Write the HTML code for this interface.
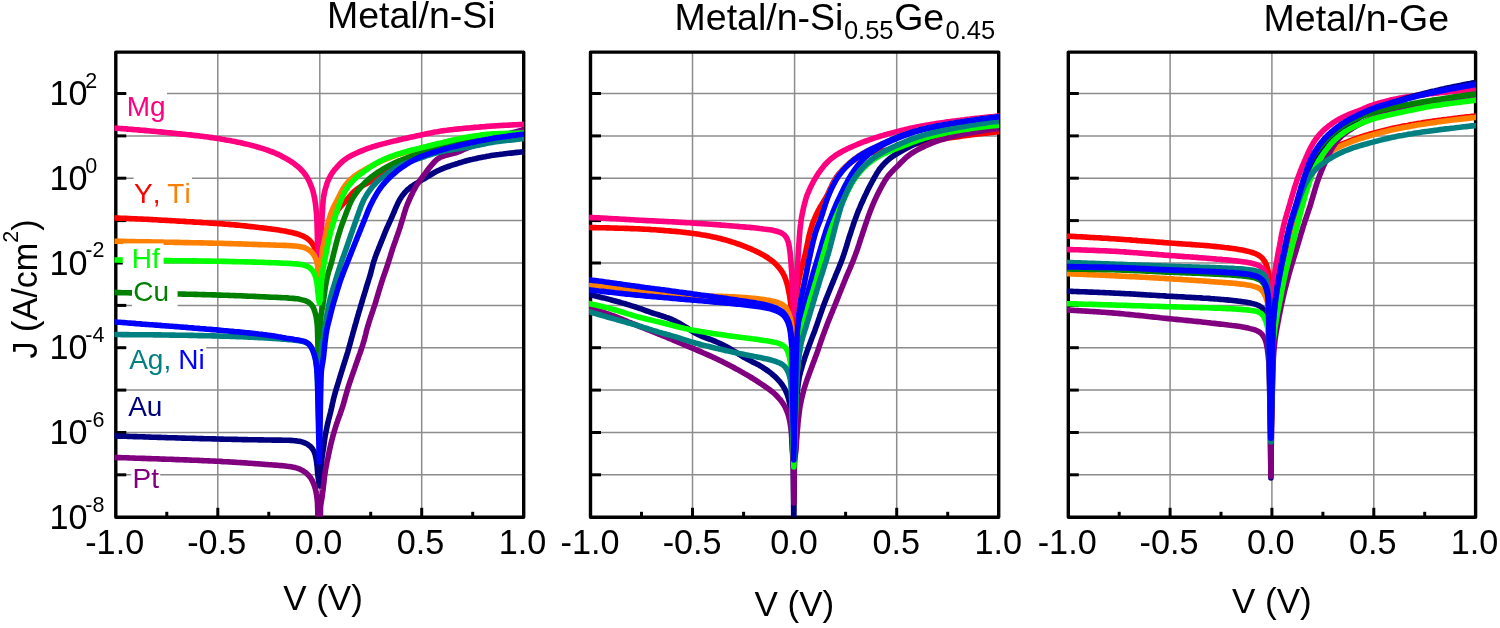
<!DOCTYPE html>
<html><head><meta charset="utf-8"><title>J-V characteristics</title>
<style>
html,body{margin:0;padding:0;background:#fff;}
body{width:1500px;height:628px;overflow:hidden;}
svg{display:block;font-family:"Liberation Sans",sans-serif;font-kerning:none;filter:blur(0.55px);}
.c{fill:none;stroke-width:5.6;stroke-linejoin:round;stroke-linecap:butt;}
.g{stroke:#8c8c8c;stroke-width:1.5;fill:none;}
.t{stroke:#000;stroke-width:3;fill:none;}
.fr{stroke:#000;stroke-width:3.4;fill:none;stroke-linejoin:round;}
.tl{font-size:34.2px;fill:#000;}
.lb{font-size:28px;}
</style></head><body>
<svg width="1500" height="628" viewBox="0 0 1500 628">
<rect width="1500" height="628" fill="#fff"/>
<g id="panel1">
<line class="g" x1="217.8" y1="52.1" x2="217.8" y2="517.3"/>
<line class="g" x1="319.8" y1="52.1" x2="319.8" y2="517.3"/>
<line class="g" x1="421.7" y1="52.1" x2="421.7" y2="517.3"/>
<line class="g" x1="115.8" y1="474.8" x2="523.7" y2="474.8"/>
<line class="g" x1="115.8" y1="432.5" x2="523.7" y2="432.5"/>
<line class="g" x1="115.8" y1="390.1" x2="523.7" y2="390.1"/>
<line class="g" x1="115.8" y1="347.7" x2="523.7" y2="347.7"/>
<line class="g" x1="115.8" y1="305.4" x2="523.7" y2="305.4"/>
<line class="g" x1="115.8" y1="263.0" x2="523.7" y2="263.0"/>
<line class="g" x1="115.8" y1="220.6" x2="523.7" y2="220.6"/>
<line class="g" x1="115.8" y1="178.2" x2="523.7" y2="178.2"/>
<line class="g" x1="115.8" y1="135.9" x2="523.7" y2="135.9"/>
<line class="g" x1="115.8" y1="93.5" x2="523.7" y2="93.5"/>
<line class="t" x1="115.8" y1="474.8" x2="126.3" y2="474.8"/>
<line class="t" x1="115.8" y1="432.5" x2="126.3" y2="432.5"/>
<line class="t" x1="115.8" y1="390.1" x2="126.3" y2="390.1"/>
<line class="t" x1="115.8" y1="347.7" x2="126.3" y2="347.7"/>
<line class="t" x1="115.8" y1="305.4" x2="126.3" y2="305.4"/>
<line class="t" x1="115.8" y1="263.0" x2="126.3" y2="263.0"/>
<line class="t" x1="115.8" y1="220.6" x2="126.3" y2="220.6"/>
<line class="t" x1="115.8" y1="178.2" x2="126.3" y2="178.2"/>
<line class="t" x1="115.8" y1="135.9" x2="126.3" y2="135.9"/>
<line class="t" x1="115.8" y1="93.5" x2="126.3" y2="93.5"/>
<line class="t" x1="217.8" y1="517.3" x2="217.8" y2="507.8"/>
<line class="t" x1="319.8" y1="517.3" x2="319.8" y2="507.8"/>
<line class="t" x1="421.7" y1="517.3" x2="421.7" y2="507.8"/>
<line class="t" x1="166.8" y1="517.3" x2="166.8" y2="511.8"/>
<line class="t" x1="268.8" y1="517.3" x2="268.8" y2="511.8"/>
<line class="t" x1="370.7" y1="517.3" x2="370.7" y2="511.8"/>
<line class="t" x1="472.7" y1="517.3" x2="472.7" y2="511.8"/>
<rect class="fr" x="115.8" y="52.1" width="407.9" height="465.2"/>
<clipPath id="clip0"><rect x="114.4" y="52.1" width="409.6" height="464.7"/></clipPath>
<g clip-path="url(#clip0)">
<polyline class="c" stroke="#ff0000" points="110.0,217.8 112.0,217.9 114.0,217.9 116.0,218.0 118.1,218.1 120.1,218.2 122.1,218.2 124.1,218.3 126.1,218.4 128.1,218.5 130.2,218.6 132.2,218.7 134.2,218.8 136.2,218.9 138.2,219.0 140.2,219.0 142.2,219.1 144.3,219.2 146.3,219.3 148.3,219.4 150.3,219.5 152.3,219.6 154.3,219.7 156.4,219.8 158.4,220.0 160.4,220.1 162.4,220.2 164.4,220.3 166.4,220.4 168.4,220.5 170.5,220.6 172.5,220.7 174.5,220.8 176.5,221.0 178.5,221.1 180.5,221.2 182.5,221.3 184.6,221.4 186.6,221.6 188.6,221.7 190.6,221.8 192.6,221.9 194.6,222.1 196.6,222.2 198.6,222.3 200.7,222.4 202.7,222.6 204.7,222.7 206.7,222.8 208.7,223.0 210.7,223.1 212.7,223.2 214.8,223.4 216.8,223.5 218.8,223.6 220.8,223.8 222.8,223.9 224.8,224.1 226.8,224.2 228.8,224.4 230.8,224.6 232.9,224.8 234.9,224.9 236.9,225.1 238.9,225.3 240.9,225.5 242.9,225.7 244.9,225.9 246.9,226.1 248.9,226.4 250.9,226.6 252.9,226.8 254.9,227.0 256.9,227.2 258.9,227.5 260.9,227.7 263.0,227.9 265.0,228.2 267.0,228.4 269.0,228.7 271.0,228.9 273.0,229.2 275.0,229.5 276.9,229.8 278.9,230.1 280.9,230.4 282.9,230.8 284.9,231.1 286.9,231.5 288.9,231.9 290.9,232.3 292.8,232.8 294.8,233.3 296.7,233.8 298.7,234.4 300.6,235.1 302.5,235.8 304.3,236.7 306.0,237.6 307.7,238.8 309.2,240.1 310.6,241.5 311.9,243.0 313.0,244.7 314.0,246.4 314.9,248.2 315.7,250.1 316.3,252.0 316.8,254.0 317.2,255.9 317.4,257.9 317.6,259.9 317.8,261.9 317.9,263.9 317.9,266.0 318.0,268.0 319.3,280.0 320.5,275.0 320.6,273.0 320.6,271.0 320.7,268.9 320.9,266.9 321.0,264.9 321.2,262.9 321.4,260.9 321.6,258.9 321.8,256.9 322.0,254.9 322.3,252.9 322.6,250.9 323.0,249.0 323.4,247.0 323.8,245.0 324.3,243.0 324.8,241.1 325.3,239.1 325.8,237.2 326.4,235.3 327.0,233.3 327.6,231.4 328.3,229.5 329.0,227.6 329.7,225.8 330.5,223.9 331.3,222.0 332.1,220.2 333.0,218.3 333.9,216.5 334.8,214.8 335.8,213.0 336.9,211.4 338.0,209.7 339.3,208.2 340.6,206.6 341.9,205.1 343.3,203.6 344.7,202.2 346.1,200.7 347.4,199.1 348.7,197.6 350.0,196.0 351.3,194.5 352.7,193.0 354.1,191.6 355.6,190.3 357.1,189.1 358.7,187.9 360.4,186.9 362.2,185.9 364.0,184.9 365.8,183.9 367.6,183.0 369.4,182.0 371.1,181.1 372.9,180.1 374.7,179.1 376.5,178.2 378.2,177.2 380.0,176.2 381.7,175.2 383.5,174.2 385.2,173.1 386.8,172.0 388.5,170.9 390.2,169.8 391.9,168.7 393.6,167.7 395.3,166.6 397.1,165.6 398.8,164.5 400.5,163.5 402.3,162.5 404.0,161.5 405.8,160.6 407.6,159.6 409.4,158.7 411.2,157.8 413.0,156.9 414.8,156.1 416.7,155.3 418.5,154.6 420.4,153.9 422.3,153.2 424.2,152.6 426.2,152.0 428.1,151.4 430.0,150.8 432.0,150.3 433.9,149.7 435.9,149.2 437.8,148.6 439.7,148.1 441.7,147.6 443.6,147.1 445.6,146.5 447.5,146.0 449.5,145.5 451.4,145.0 453.4,144.5 455.3,144.0 457.3,143.5 459.2,143.0 461.2,142.6 463.2,142.1 465.1,141.7 467.1,141.3 469.1,140.9 471.0,140.4 473.0,140.1 475.0,139.7 477.0,139.3 479.0,138.9 480.9,138.6 482.9,138.2 484.9,137.9 486.9,137.6 488.9,137.2 490.9,137.0 492.9,136.7 494.9,136.5 496.9,136.2 498.9,136.0 500.9,135.8 502.9,135.6 504.9,135.5 506.9,135.3 508.9,135.1 510.9,135.0 512.9,134.8 514.9,134.6 517.0,134.5 519.0,134.3 521.0,134.2 523.0,134.0 525.0,133.8 527.0,133.7"/>
<polyline class="c" stroke="#ff0080" points="110.0,127.8 112.0,127.9 114.0,128.1 116.0,128.2 118.0,128.3 120.0,128.5 122.0,128.6 124.0,128.8 126.0,128.9 128.0,129.1 130.0,129.2 132.0,129.4 134.0,129.6 136.0,129.7 138.0,129.9 140.0,130.1 142.0,130.3 144.1,130.4 146.1,130.6 148.1,130.8 150.1,131.0 152.1,131.2 154.1,131.3 156.1,131.5 158.1,131.7 160.1,131.9 162.1,132.1 164.1,132.3 166.1,132.5 168.1,132.7 170.1,132.9 172.1,133.1 174.1,133.3 176.1,133.5 178.1,133.7 180.1,133.9 182.1,134.1 184.1,134.3 186.1,134.5 188.1,134.7 190.1,134.9 192.1,135.1 194.1,135.4 196.1,135.6 198.1,135.8 200.1,136.1 202.0,136.3 204.0,136.6 206.0,136.8 208.0,137.1 210.0,137.4 212.0,137.6 214.0,137.9 215.9,138.2 217.9,138.5 219.9,138.8 221.9,139.2 223.9,139.5 225.9,139.9 227.9,140.2 229.9,140.6 231.9,141.0 233.8,141.3 235.8,141.7 237.8,142.2 239.8,142.6 241.8,143.0 243.8,143.5 245.7,143.9 247.7,144.4 249.7,144.9 251.6,145.4 253.6,145.9 255.5,146.4 257.4,147.0 259.3,147.5 261.2,148.1 263.1,148.7 265.0,149.3 266.9,149.9 268.7,150.6 270.6,151.3 272.5,152.0 274.4,152.7 276.2,153.6 278.1,154.4 280.0,155.3 281.8,156.2 283.6,157.2 285.5,158.2 287.2,159.2 289.0,160.2 290.7,161.3 292.4,162.4 294.0,163.6 295.5,164.8 297.1,166.0 298.6,167.2 300.0,168.6 301.4,170.0 302.8,171.5 304.1,173.1 305.3,174.7 306.5,176.4 307.5,178.1 308.4,179.8 309.3,181.6 310.1,183.4 310.9,185.3 311.6,187.2 312.3,189.1 312.9,191.0 313.4,193.0 313.9,195.0 314.3,196.9 314.7,198.9 315.0,200.9 315.3,202.8 315.6,204.8 315.8,206.8 316.0,208.8 316.2,210.8 316.4,212.8 316.6,214.9 316.7,216.9 316.8,218.9 316.9,220.9 317.0,222.9 317.1,224.9 317.1,226.9 317.2,228.9 317.2,230.9 317.3,232.9 317.3,234.9 317.4,236.9 317.5,238.9 317.5,241.0 317.6,243.0 317.7,245.0 317.8,247.0 317.8,249.0 317.9,251.0 318.0,253.0 319.3,259.0 319.6,253.0 319.7,251.0 319.8,249.0 319.9,247.0 320.1,245.0 320.2,243.0 320.3,241.0 320.5,239.0 320.7,237.0 320.9,235.0 321.0,232.9 321.2,230.9 321.4,228.9 321.5,226.9 321.7,224.9 321.8,222.9 321.9,220.9 322.0,218.9 322.1,216.9 322.2,214.9 322.3,212.9 322.5,210.9 322.6,208.9 322.7,206.9 322.8,204.9 323.0,202.8 323.1,200.9 323.4,198.9 323.6,196.9 324.0,194.9 324.4,192.9 324.8,190.9 325.3,189.0 325.9,187.1 326.5,185.1 327.1,183.2 327.8,181.3 328.6,179.5 329.5,177.7 330.4,175.9 331.4,174.2 332.5,172.5 333.7,170.9 334.9,169.3 336.3,167.8 337.6,166.3 339.0,164.8 340.4,163.4 341.9,162.0 343.5,160.7 345.0,159.5 346.7,158.3 348.3,157.2 350.1,156.2 351.8,155.3 353.6,154.4 355.5,153.5 357.3,152.7 359.1,151.9 361.0,151.1 362.9,150.3 364.7,149.6 366.6,148.9 368.5,148.2 370.4,147.6 372.3,146.9 374.2,146.3 376.2,145.7 378.1,145.2 380.0,144.6 382.0,144.1 383.9,143.6 385.9,143.1 387.8,142.6 389.8,142.1 391.7,141.6 393.7,141.1 395.6,140.7 397.6,140.2 399.5,139.7 401.5,139.3 403.5,138.8 405.4,138.4 407.4,138.0 409.3,137.5 411.3,137.1 413.3,136.7 415.2,136.3 417.2,135.8 419.2,135.4 421.1,135.0 423.1,134.6 425.1,134.1 427.0,133.7 429.0,133.3 431.0,132.9 432.9,132.5 434.9,132.1 436.9,131.8 438.9,131.4 440.9,131.1 442.8,130.8 444.8,130.5 446.8,130.3 448.8,130.0 450.8,129.8 452.8,129.6 454.8,129.3 456.8,129.1 458.8,128.9 460.8,128.7 462.8,128.5 464.8,128.3 466.8,128.1 468.8,128.0 470.8,127.8 472.8,127.6 474.8,127.4 476.8,127.2 478.8,127.1 480.8,126.9 482.8,126.7 484.8,126.6 486.9,126.4 488.9,126.3 490.9,126.1 492.9,126.0 494.9,125.9 496.9,125.8 498.9,125.6 500.9,125.5 502.9,125.4 504.9,125.3 506.9,125.2 508.9,125.1 510.9,125.0 512.9,124.9 515.0,124.8 517.0,124.7 519.0,124.6 521.0,124.5 523.0,124.4 525.0,124.3 527.0,124.2"/>
<polyline class="c" stroke="#ff8000" points="110.0,241.1 112.0,241.2 114.0,241.2 116.0,241.2 118.1,241.3 120.1,241.3 122.1,241.4 124.1,241.4 126.1,241.5 128.1,241.5 130.1,241.6 132.2,241.6 134.2,241.6 136.2,241.7 138.2,241.7 140.2,241.7 142.2,241.8 144.2,241.8 146.3,241.9 148.3,241.9 150.3,241.9 152.3,242.0 154.3,242.0 156.3,242.0 158.4,242.1 160.4,242.1 162.4,242.1 164.4,242.2 166.4,242.2 168.4,242.3 170.4,242.3 172.5,242.3 174.5,242.4 176.5,242.4 178.5,242.4 180.5,242.5 182.5,242.5 184.5,242.6 186.6,242.6 188.6,242.6 190.6,242.7 192.6,242.7 194.6,242.7 196.6,242.8 198.7,242.8 200.7,242.9 202.7,242.9 204.7,243.0 206.7,243.0 208.7,243.1 210.7,243.1 212.8,243.1 214.8,243.2 216.8,243.2 218.8,243.3 220.8,243.3 222.8,243.4 224.8,243.5 226.9,243.5 228.9,243.6 230.9,243.6 232.9,243.7 234.9,243.8 236.9,243.8 238.9,243.9 241.0,243.9 243.0,244.0 245.0,244.1 247.0,244.1 249.0,244.2 251.0,244.3 253.0,244.4 255.1,244.4 257.1,244.5 259.1,244.6 261.1,244.6 263.1,244.7 265.1,244.8 267.1,244.8 269.2,244.9 271.2,245.0 273.2,245.0 275.2,245.1 277.2,245.2 279.2,245.2 281.3,245.3 283.3,245.4 285.3,245.4 287.3,245.5 289.3,245.6 291.3,245.7 293.3,245.9 295.3,246.0 297.3,246.2 299.3,246.5 301.3,246.9 303.3,247.4 305.2,248.0 307.0,248.8 308.7,249.8 310.3,251.0 311.8,252.3 313.1,253.9 314.2,255.5 315.1,257.3 315.9,259.1 316.6,261.0 317.1,263.0 317.4,264.9 317.7,266.9 317.9,268.9 318.0,270.9 318.1,273.0 318.2,275.0 319.3,292.0 320.3,290.0 320.4,288.0 320.4,286.0 320.5,284.0 320.5,282.0 320.6,280.0 320.7,278.0 320.8,275.9 320.8,273.9 320.9,271.9 321.0,269.9 321.1,267.9 321.2,265.9 321.3,263.9 321.4,261.9 321.5,259.9 321.6,257.9 321.8,255.9 322.0,253.9 322.2,251.9 322.5,249.9 322.8,247.9 323.2,246.0 323.7,244.0 324.1,242.0 324.5,240.1 324.9,238.1 325.3,236.1 325.7,234.2 326.1,232.2 326.5,230.2 327.0,228.3 327.4,226.3 327.8,224.3 328.3,222.4 328.8,220.4 329.3,218.5 329.9,216.6 330.5,214.7 331.2,212.8 331.9,210.9 332.7,209.1 333.5,207.2 334.4,205.4 335.3,203.7 336.3,201.9 337.2,200.1 338.1,198.3 339.0,196.5 339.9,194.7 340.8,192.9 341.7,191.1 342.7,189.3 343.7,187.7 344.9,186.0 346.1,184.4 347.4,182.8 348.7,181.3 350.1,179.9 351.6,178.6 353.1,177.3 354.7,176.1 356.3,174.9 358.0,173.8 359.7,172.7 361.4,171.7 363.2,170.7 364.9,169.6 366.6,168.6 368.4,167.6 370.2,166.7 371.9,165.7 373.7,164.8 375.5,163.9 377.3,163.0 379.1,162.1 380.9,161.3 382.8,160.4 384.6,159.6 386.4,158.8 388.3,158.1 390.2,157.3 392.1,156.6 393.9,156.0 395.8,155.3 397.7,154.7 399.7,154.1 401.6,153.5 403.5,152.9 405.4,152.4 407.4,151.8 409.3,151.3 411.3,150.8 413.2,150.3 415.1,149.7 417.1,149.2 419.0,148.7 421.0,148.2 422.9,147.7 424.9,147.2 426.8,146.7 428.8,146.2 430.7,145.7 432.7,145.2 434.6,144.8 436.6,144.3 438.5,143.8 440.5,143.4 442.4,142.9 444.4,142.5 446.3,142.0 448.3,141.6 450.3,141.1 452.2,140.6 454.2,140.2 456.1,139.8 458.1,139.3 460.1,138.9 462.0,138.5 464.0,138.2 466.0,137.8 468.0,137.5 469.9,137.1 471.9,136.8 473.9,136.5 475.9,136.2 477.9,135.9 479.9,135.7 481.9,135.4 483.9,135.2 485.9,134.9 487.9,134.7 489.9,134.5 491.9,134.4 493.9,134.3 495.9,134.1 497.9,134.1 499.9,134.0 501.9,133.9 503.9,133.8 505.9,133.8 507.9,133.7 509.9,133.7 511.9,133.6 513.9,133.6 516.0,133.5 518.0,133.5 520.0,133.4 522.0,133.3 524.0,133.3 526.0,133.2 528.0,133.1"/>
<polyline class="c" stroke="#000080" points="110.0,435.8 112.0,435.9 114.0,435.9 116.0,436.0 118.0,436.1 120.0,436.1 122.1,436.2 124.1,436.3 126.1,436.3 128.1,436.4 130.1,436.5 132.1,436.5 134.1,436.6 136.1,436.6 138.1,436.7 140.1,436.8 142.1,436.8 144.1,436.9 146.2,437.0 148.2,437.0 150.2,437.1 152.2,437.2 154.2,437.2 156.2,437.3 158.2,437.4 160.2,437.4 162.2,437.5 164.2,437.5 166.2,437.6 168.3,437.7 170.3,437.7 172.3,437.8 174.3,437.8 176.3,437.9 178.3,438.0 180.3,438.0 182.3,438.1 184.3,438.1 186.3,438.2 188.3,438.3 190.4,438.3 192.4,438.4 194.4,438.4 196.4,438.5 198.4,438.5 200.4,438.6 202.4,438.6 204.4,438.7 206.4,438.7 208.4,438.8 210.4,438.8 212.5,438.9 214.5,438.9 216.5,439.0 218.5,439.0 220.5,439.1 222.5,439.1 224.5,439.2 226.5,439.2 228.5,439.3 230.5,439.3 232.5,439.4 234.6,439.4 236.6,439.4 238.6,439.5 240.6,439.5 242.6,439.6 244.6,439.6 246.6,439.6 248.6,439.7 250.6,439.7 252.6,439.8 254.7,439.8 256.7,439.8 258.7,439.9 260.7,439.9 262.7,439.9 264.7,440.0 266.7,440.0 268.7,440.0 270.7,440.0 272.7,440.1 274.8,440.1 276.8,440.1 278.8,440.1 280.8,440.1 282.8,440.2 284.8,440.2 286.8,440.2 288.8,440.3 290.8,440.4 292.8,440.5 294.8,440.7 296.8,440.9 298.8,441.2 300.8,441.6 302.7,442.1 304.6,442.8 306.4,443.7 308.1,444.7 309.7,445.9 311.2,447.2 312.4,448.7 313.5,450.4 314.3,452.2 315.0,454.1 315.5,456.0 315.9,458.0 316.3,460.0 316.6,462.0 316.8,464.0 317.1,466.0 317.3,468.0 317.4,470.0 317.6,472.0 317.7,474.0 319.3,486.0 320.6,475.0 320.7,473.0 320.8,471.0 320.9,469.0 321.1,467.0 321.2,465.0 321.4,463.0 321.6,461.0 321.8,459.0 322.1,457.0 322.4,455.0 322.7,453.0 323.0,451.0 323.3,449.0 323.6,447.1 323.9,445.1 324.1,443.1 324.4,441.1 324.7,439.1 325.0,437.1 325.3,435.1 325.7,433.2 326.1,431.2 326.5,429.2 326.9,427.3 327.3,425.3 327.8,423.3 328.2,421.4 328.7,419.4 329.2,417.5 329.7,415.5 330.2,413.6 330.7,411.6 331.1,409.7 331.6,407.7 332.0,405.8 332.4,403.8 332.9,401.9 333.3,399.9 333.8,397.9 334.3,396.0 334.8,394.1 335.4,392.1 335.9,390.2 336.5,388.3 337.1,386.4 337.7,384.4 338.3,382.5 338.9,380.6 339.4,378.7 340.0,376.7 340.6,374.8 341.2,372.9 341.8,371.0 342.4,369.1 343.0,367.1 343.6,365.2 344.2,363.3 344.8,361.4 345.4,359.5 346.0,357.6 346.6,355.7 347.2,353.7 347.8,351.8 348.3,349.9 348.9,348.0 349.4,346.0 350.0,344.1 350.5,342.1 351.0,340.2 351.5,338.3 352.1,336.3 352.6,334.4 353.1,332.5 353.7,330.5 354.2,328.6 354.8,326.7 355.3,324.7 355.9,322.8 356.4,320.9 357.0,318.9 357.5,317.0 358.1,315.1 358.6,313.1 359.2,311.2 359.8,309.3 360.3,307.4 360.9,305.4 361.5,303.5 362.1,301.6 362.6,299.7 363.2,297.7 363.8,295.8 364.4,293.9 365.0,292.0 365.6,290.1 366.1,288.1 366.7,286.2 367.3,284.3 367.9,282.4 368.5,280.5 369.1,278.5 369.7,276.6 370.3,274.7 370.8,272.8 371.3,270.8 371.8,268.9 372.3,266.9 372.8,265.0 373.3,263.1 373.9,261.1 374.6,259.2 375.2,257.3 375.9,255.4 376.6,253.6 377.3,251.7 378.1,249.8 378.8,247.9 379.6,246.1 380.3,244.2 381.1,242.4 381.8,240.5 382.6,238.6 383.3,236.8 384.1,234.9 384.8,233.0 385.6,231.2 386.3,229.3 387.1,227.5 388.0,225.7 388.8,223.8 389.6,222.0 390.5,220.2 391.3,218.3 392.1,216.5 392.9,214.7 393.7,212.8 394.5,211.0 395.2,209.1 396.0,207.3 396.9,205.4 397.7,203.6 398.6,201.8 399.5,200.0 400.6,198.3 401.6,196.6 402.8,195.0 404.1,193.4 405.4,191.9 406.8,190.4 408.2,189.1 409.8,187.8 411.4,186.6 413.0,185.5 414.7,184.4 416.4,183.3 418.1,182.3 419.9,181.2 421.6,180.2 423.3,179.2 425.1,178.2 426.8,177.1 428.5,176.0 430.2,175.0 431.9,174.0 433.6,173.0 435.4,172.0 437.2,171.1 439.0,170.2 440.8,169.4 442.7,168.6 444.5,167.9 446.4,167.2 448.3,166.5 450.2,165.8 452.1,165.2 454.0,164.6 456.0,164.0 457.9,163.4 459.8,162.7 461.7,162.2 463.6,161.6 465.6,161.0 467.5,160.5 469.4,160.0 471.4,159.6 473.4,159.1 475.3,158.7 477.3,158.2 479.2,157.8 481.2,157.4 483.2,157.0 485.2,156.7 487.1,156.3 489.1,156.0 491.1,155.6 493.1,155.3 495.1,155.0 497.1,154.7 499.0,154.5 501.0,154.2 503.0,154.0 505.0,153.7 507.0,153.5 509.0,153.3 511.0,153.1 513.0,152.9 515.0,152.6 517.0,152.4 519.0,152.2 521.0,152.0 523.0,151.8 525.0,151.6 527.0,151.4"/>
<polyline class="c" stroke="#800080" points="110.0,457.3 112.0,457.4 114.0,457.4 116.0,457.5 118.1,457.6 120.1,457.6 122.1,457.7 124.1,457.8 126.1,457.8 128.1,457.9 130.2,458.0 132.2,458.0 134.2,458.1 136.2,458.2 138.2,458.2 140.2,458.3 142.2,458.4 144.3,458.4 146.3,458.5 148.3,458.6 150.3,458.6 152.3,458.7 154.3,458.8 156.4,458.8 158.4,458.9 160.4,459.0 162.4,459.1 164.4,459.1 166.4,459.2 168.4,459.3 170.5,459.3 172.5,459.4 174.5,459.5 176.5,459.6 178.5,459.6 180.5,459.7 182.6,459.8 184.6,459.9 186.6,459.9 188.6,460.0 190.6,460.1 192.6,460.2 194.6,460.3 196.7,460.3 198.7,460.4 200.7,460.5 202.7,460.6 204.7,460.7 206.7,460.8 208.7,460.9 210.8,461.0 212.8,461.0 214.8,461.1 216.8,461.2 218.8,461.3 220.8,461.4 222.8,461.6 224.8,461.7 226.9,461.8 228.9,461.9 230.9,462.0 232.9,462.1 234.9,462.2 236.9,462.4 238.9,462.5 241.0,462.6 243.0,462.8 245.0,462.9 247.0,463.0 249.0,463.2 251.0,463.3 253.0,463.5 255.0,463.6 257.0,463.7 259.1,463.9 261.1,464.0 263.1,464.2 265.1,464.4 267.1,464.5 269.1,464.7 271.1,464.8 273.1,465.0 275.1,465.1 277.2,465.3 279.2,465.5 281.2,465.6 283.2,465.8 285.2,466.0 287.2,466.3 289.2,466.5 291.2,466.8 293.2,467.2 295.1,467.6 297.1,468.1 299.0,468.8 300.8,469.6 302.6,470.6 304.3,471.7 305.9,472.8 307.4,474.2 308.8,475.6 310.1,477.1 311.2,478.8 312.2,480.5 313.0,482.3 313.8,484.2 314.5,486.1 315.1,488.1 315.6,490.0 316.1,492.0 316.4,494.0 316.8,495.9 317.0,497.9 317.2,499.9 317.4,502.0 317.5,504.0 317.6,506.0 319.3,565.0 320.6,506.0 320.9,504.0 321.2,502.0 321.6,500.1 321.9,498.1 322.2,496.1 322.4,494.1 322.7,492.1 323.0,490.1 323.2,488.1 323.4,486.2 323.7,484.2 323.9,482.2 324.1,480.2 324.3,478.2 324.6,476.2 324.9,474.2 325.2,472.2 325.5,470.3 325.8,468.3 326.2,466.3 326.6,464.3 326.9,462.4 327.3,460.4 327.8,458.4 328.2,456.5 328.6,454.5 329.0,452.6 329.4,450.6 329.8,448.6 330.3,446.7 330.7,444.7 331.2,442.8 331.7,440.8 332.2,438.9 332.7,437.0 333.2,435.0 333.8,433.1 334.3,431.2 334.9,429.3 335.5,427.3 336.1,425.4 336.7,423.5 337.4,421.6 338.0,419.7 338.7,417.8 339.4,416.0 340.1,414.1 340.7,412.2 341.4,410.3 342.0,408.4 342.7,406.5 343.3,404.6 343.8,402.6 344.4,400.7 344.9,398.8 345.4,396.8 346.0,394.9 346.5,393.0 347.1,391.1 347.6,389.1 348.2,387.2 348.8,385.3 349.4,383.4 350.1,381.5 350.7,379.6 351.4,377.7 352.0,375.8 352.7,373.9 353.4,372.0 354.0,370.1 354.7,368.2 355.3,366.3 356.0,364.5 356.6,362.6 357.3,360.7 358.0,358.8 358.6,356.9 359.3,355.0 360.0,353.1 360.6,351.2 361.3,349.3 361.9,347.4 362.6,345.5 363.1,343.6 363.7,341.7 364.3,339.7 364.8,337.8 365.3,335.9 365.8,333.9 366.2,332.0 366.7,330.0 367.3,328.1 367.8,326.2 368.4,324.3 369.0,322.3 369.6,320.4 370.2,318.5 370.8,316.6 371.5,314.7 372.1,312.8 372.8,310.9 373.4,309.0 374.0,307.1 374.7,305.2 375.3,303.3 375.9,301.4 376.4,299.5 377.0,297.5 377.6,295.6 378.2,293.7 378.7,291.8 379.3,289.9 379.9,287.9 380.5,286.0 381.1,284.1 381.7,282.2 382.3,280.3 382.9,278.4 383.6,276.5 384.2,274.6 384.9,272.7 385.6,270.8 386.2,268.9 386.9,267.0 387.5,265.1 388.1,263.2 388.7,261.3 389.3,259.4 389.9,257.5 390.5,255.6 391.1,253.6 391.7,251.7 392.3,249.8 392.9,247.9 393.6,246.0 394.2,244.1 394.9,242.2 395.6,240.4 396.2,238.5 396.9,236.6 397.6,234.7 398.2,232.8 398.9,230.9 399.5,229.0 400.2,227.1 400.7,225.2 401.3,223.3 401.9,221.3 402.5,219.4 403.1,217.5 403.6,215.6 404.2,213.7 404.8,211.7 405.4,209.8 406.0,207.9 406.7,206.0 407.4,204.2 408.2,202.3 409.0,200.5 409.8,198.6 410.6,196.8 411.5,195.0 412.4,193.2 413.2,191.4 414.2,189.6 415.1,187.9 416.1,186.1 417.2,184.4 418.3,182.8 419.5,181.1 420.6,179.5 421.8,177.9 423.0,176.3 424.2,174.7 425.4,173.1 426.6,171.4 427.8,169.8 429.0,168.2 430.3,166.7 431.6,165.1 432.9,163.6 434.2,162.1 435.6,160.7 437.1,159.4 438.7,158.3 440.5,157.3 442.3,156.5 444.2,155.8 446.1,155.2 448.0,154.7 450.0,154.2 451.9,153.8 453.9,153.3 455.8,152.8 457.7,152.1 459.5,151.4 461.4,150.6 463.2,149.8 465.0,148.9 466.9,148.1 468.7,147.4 470.6,146.7 472.5,145.9 474.4,145.3 476.3,144.6 478.2,143.9 480.1,143.3 482.0,142.6 483.9,142.0 485.8,141.4 487.7,140.7 489.6,140.1 491.5,139.5 493.4,138.8 495.3,138.2 497.2,137.5 499.1,136.9 501.0,136.2 502.9,135.6 504.8,135.0 506.7,134.3 508.6,133.8 510.5,133.2 512.4,132.6 514.4,132.1 516.3,131.6 518.2,131.1 520.2,130.6 522.1,130.1 524.1,129.7 526.0,129.2 528.0,128.8"/>
<polyline class="c" stroke="#008000" points="110.0,292.3 112.0,292.4 114.0,292.4 116.0,292.5 118.0,292.6 120.1,292.6 122.1,292.7 124.1,292.7 126.1,292.8 128.1,292.8 130.1,292.9 132.1,292.9 134.1,293.0 136.2,293.0 138.2,293.1 140.2,293.1 142.2,293.2 144.2,293.2 146.2,293.3 148.2,293.3 150.2,293.4 152.2,293.4 154.3,293.5 156.3,293.5 158.3,293.5 160.3,293.6 162.3,293.6 164.3,293.7 166.3,293.7 168.3,293.8 170.4,293.8 172.4,293.9 174.4,293.9 176.4,293.9 178.4,294.0 180.4,294.0 182.4,294.1 184.4,294.1 186.4,294.2 188.5,294.2 190.5,294.3 192.5,294.3 194.5,294.4 196.5,294.4 198.5,294.5 200.5,294.5 202.5,294.6 204.6,294.6 206.6,294.7 208.6,294.7 210.6,294.8 212.6,294.9 214.6,294.9 216.6,295.0 218.6,295.1 220.6,295.1 222.7,295.2 224.7,295.3 226.7,295.3 228.7,295.4 230.7,295.5 232.7,295.5 234.7,295.6 236.7,295.7 238.7,295.8 240.8,295.8 242.8,295.9 244.8,296.0 246.8,296.1 248.8,296.2 250.8,296.3 252.8,296.3 254.8,296.4 256.8,296.5 258.9,296.6 260.9,296.7 262.9,296.8 264.9,296.9 266.9,297.0 268.9,297.1 270.9,297.2 272.9,297.3 275.0,297.3 277.0,297.4 279.0,297.5 281.0,297.6 283.1,297.7 285.1,297.8 287.1,297.9 289.1,298.1 291.1,298.2 293.1,298.4 295.1,298.6 297.1,298.8 299.1,299.1 301.1,299.6 303.2,300.1 305.1,300.7 306.9,301.4 308.6,302.3 310.1,303.4 311.4,304.8 312.6,306.4 313.6,308.2 314.3,310.1 314.9,311.9 315.4,313.8 315.9,315.7 316.3,317.6 316.6,319.6 316.9,321.6 317.1,323.6 317.3,325.7 317.4,327.9 317.5,330.0 319.3,400.0 320.2,340.0 320.2,338.0 320.2,336.0 320.3,334.0 320.3,331.9 320.3,329.9 320.4,327.9 320.5,325.9 320.5,323.9 320.6,321.9 320.7,319.9 320.9,317.9 321.0,315.9 321.3,313.9 321.6,312.0 321.9,310.0 322.2,308.0 322.5,306.0 322.9,304.0 323.2,302.0 323.5,300.0 323.8,298.1 324.1,296.1 324.4,294.1 324.7,292.1 324.9,290.1 325.2,288.1 325.5,286.1 325.9,284.2 326.2,282.2 326.6,280.2 327.0,278.2 327.4,276.3 327.9,274.3 328.4,272.4 329.0,270.5 329.6,268.6 330.2,266.7 330.8,264.7 331.4,262.8 331.9,260.9 332.4,258.9 332.9,257.0 333.4,255.0 333.8,253.1 334.3,251.1 334.8,249.2 335.3,247.2 335.8,245.3 336.3,243.3 336.8,241.4 337.3,239.5 337.8,237.5 338.4,235.6 339.0,233.7 339.6,231.8 340.2,229.8 340.8,227.9 341.5,226.0 342.1,224.1 342.8,222.2 343.5,220.4 344.2,218.5 344.9,216.6 345.6,214.7 346.3,212.8 347.0,211.0 347.8,209.1 348.5,207.2 349.3,205.4 350.1,203.5 350.9,201.7 351.8,199.9 352.8,198.2 353.8,196.5 354.9,194.8 356.1,193.1 357.3,191.5 358.5,189.9 359.8,188.4 361.1,186.8 362.4,185.3 363.8,183.9 365.2,182.4 366.7,181.0 368.2,179.7 369.7,178.4 371.2,177.1 372.8,175.9 374.4,174.7 376.1,173.6 377.8,172.4 379.4,171.3 381.1,170.3 382.9,169.2 384.6,168.2 386.3,167.2 388.1,166.2 389.9,165.3 391.6,164.4 393.4,163.5 395.3,162.6 397.1,161.8 398.9,161.0 400.8,160.3 402.7,159.5 404.5,158.8 406.4,158.1 408.3,157.3 410.2,156.6 412.1,156.0 414.0,155.3 415.9,154.7 417.8,154.1 419.7,153.5 421.6,153.0 423.6,152.5 425.5,151.9 427.5,151.4 429.4,150.9 431.3,150.4 433.3,149.8 435.2,149.3 437.2,148.8 439.1,148.3 441.0,147.8 443.0,147.2 444.9,146.7 446.8,146.1 448.8,145.6 450.7,145.0 452.6,144.5 454.6,143.9 456.5,143.4 458.5,142.9 460.4,142.3 462.3,141.9 464.3,141.4 466.2,141.0 468.2,140.5 470.2,140.2 472.1,139.8 474.1,139.4 476.1,139.1 478.1,138.8 480.1,138.4 482.0,138.1 484.0,137.8 486.0,137.6 488.0,137.3 490.0,137.0 492.0,136.8 494.0,136.6 496.0,136.3 498.0,136.1 500.0,135.9 502.0,135.7 504.0,135.6 506.0,135.4 508.0,135.2 510.0,135.1 512.0,134.9 514.0,134.7 516.0,134.6 518.0,134.4 520.0,134.3 522.0,134.1 524.0,133.9 526.0,133.8 528.0,133.6"/>
<polyline class="c" stroke="#00ff00" points="110.0,259.9 112.0,259.9 114.0,260.0 116.1,260.0 118.1,260.0 120.1,260.1 122.1,260.1 124.1,260.1 126.1,260.1 128.2,260.2 130.2,260.2 132.2,260.2 134.2,260.2 136.2,260.3 138.2,260.3 140.3,260.3 142.3,260.3 144.3,260.4 146.3,260.4 148.3,260.4 150.3,260.4 152.4,260.4 154.4,260.5 156.4,260.5 158.4,260.5 160.4,260.5 162.4,260.5 164.5,260.6 166.5,260.6 168.5,260.6 170.5,260.6 172.5,260.7 174.5,260.7 176.6,260.7 178.6,260.7 180.6,260.7 182.6,260.8 184.6,260.8 186.6,260.8 188.7,260.8 190.7,260.9 192.7,260.9 194.7,260.9 196.7,260.9 198.7,261.0 200.8,261.0 202.8,261.0 204.8,261.1 206.8,261.1 208.8,261.1 210.9,261.1 212.9,261.2 214.9,261.2 216.9,261.2 218.9,261.3 220.9,261.3 223.0,261.4 225.0,261.4 227.0,261.4 229.0,261.5 231.0,261.5 233.0,261.6 235.1,261.6 237.1,261.7 239.1,261.7 241.1,261.8 243.1,261.8 245.1,261.9 247.2,261.9 249.2,262.0 251.2,262.0 253.2,262.1 255.2,262.1 257.2,262.2 259.3,262.3 261.3,262.3 263.3,262.4 265.3,262.5 267.3,262.5 269.3,262.6 271.3,262.7 273.4,262.8 275.4,262.8 277.4,262.9 279.4,263.0 281.5,263.1 283.5,263.2 285.5,263.3 287.6,263.4 289.6,263.5 291.6,263.6 293.6,263.7 295.6,263.9 297.6,264.1 299.6,264.3 301.6,264.6 303.5,265.0 305.4,265.6 307.3,266.4 309.0,267.3 310.6,268.5 312.0,270.0 313.2,271.5 314.1,273.3 314.9,275.1 315.6,277.0 316.1,279.0 316.5,281.0 316.9,282.9 317.2,284.9 317.4,286.9 317.6,289.0 317.7,291.0 319.3,303.0 320.3,300.0 320.4,298.0 320.5,296.0 320.6,294.0 320.7,292.0 320.8,290.0 321.0,287.9 321.1,285.9 321.3,283.9 321.5,281.9 321.7,279.9 321.9,277.9 322.1,276.0 322.4,274.0 322.6,272.0 322.9,270.0 323.3,268.0 323.6,266.0 323.9,264.0 324.3,262.1 324.7,260.1 325.1,258.1 325.5,256.2 325.9,254.2 326.3,252.2 326.7,250.2 327.0,248.3 327.4,246.3 327.8,244.3 328.2,242.3 328.6,240.4 329.1,238.4 329.5,236.5 330.0,234.5 330.5,232.6 331.0,230.6 331.6,228.7 332.1,226.8 332.7,224.8 333.3,222.9 333.9,221.0 334.5,219.1 335.1,217.1 335.6,215.2 336.3,213.3 336.9,211.4 337.5,209.5 338.1,207.6 338.8,205.7 339.5,203.8 340.2,201.9 341.0,200.1 341.8,198.2 342.6,196.4 343.5,194.5 344.4,192.7 345.3,191.0 346.3,189.2 347.4,187.6 348.5,185.9 349.8,184.3 351.1,182.8 352.4,181.3 353.8,179.8 355.2,178.5 356.7,177.1 358.3,175.8 359.8,174.6 361.4,173.3 363.1,172.1 364.7,171.0 366.3,169.8 368.0,168.7 369.6,167.5 371.3,166.4 373.0,165.3 374.7,164.2 376.4,163.2 378.2,162.2 379.9,161.3 381.7,160.4 383.6,159.5 385.4,158.7 387.3,158.0 389.1,157.2 391.0,156.5 392.9,155.8 394.8,155.1 396.7,154.5 398.6,153.9 400.5,153.3 402.5,152.7 404.4,152.1 406.3,151.6 408.3,151.0 410.2,150.5 412.1,150.0 414.1,149.6 416.1,149.1 418.0,148.6 420.0,148.1 421.9,147.6 423.9,147.1 425.8,146.7 427.8,146.2 429.7,145.7 431.7,145.2 433.6,144.7 435.6,144.3 437.5,143.8 439.5,143.3 441.4,142.9 443.4,142.4 445.3,141.9 447.3,141.5 449.3,141.0 451.2,140.5 453.2,140.1 455.1,139.6 457.1,139.2 459.1,138.8 461.0,138.4 463.0,138.0 465.0,137.6 466.9,137.2 468.9,136.9 470.9,136.6 472.9,136.3 474.9,136.0 476.9,135.7 478.9,135.4 480.9,135.1 482.9,134.9 484.9,134.6 486.9,134.4 488.9,134.2 490.9,134.1 492.9,133.9 494.9,133.8 496.9,133.7 498.9,133.6 500.9,133.6 502.9,133.5 504.9,133.5 506.9,133.4 508.9,133.4 510.9,133.3 512.9,133.3 514.9,133.2 517.0,133.2 519.0,133.1 521.0,133.1 523.0,133.0 525.0,132.9 527.0,132.8"/>
<polyline class="c" stroke="#008080" points="110.0,334.4 112.0,334.4 114.0,334.5 116.0,334.5 118.0,334.5 120.1,334.5 122.1,334.6 124.1,334.6 126.1,334.6 128.1,334.6 130.1,334.7 132.1,334.7 134.1,334.7 136.1,334.7 138.2,334.7 140.2,334.7 142.2,334.8 144.2,334.8 146.2,334.8 148.2,334.8 150.2,334.8 152.2,334.8 154.3,334.9 156.3,334.9 158.3,334.9 160.3,334.9 162.3,335.0 164.3,335.0 166.3,335.0 168.3,335.0 170.3,335.1 172.4,335.1 174.4,335.1 176.4,335.2 178.4,335.2 180.4,335.2 182.4,335.3 184.4,335.3 186.4,335.3 188.4,335.4 190.5,335.4 192.5,335.4 194.5,335.5 196.5,335.5 198.5,335.6 200.5,335.6 202.5,335.6 204.5,335.7 206.5,335.7 208.6,335.8 210.6,335.8 212.6,335.9 214.6,335.9 216.6,336.0 218.6,336.0 220.6,336.1 222.6,336.2 224.6,336.2 226.7,336.3 228.7,336.3 230.7,336.4 232.7,336.5 234.7,336.5 236.7,336.6 238.7,336.7 240.7,336.8 242.7,336.8 244.8,336.9 246.8,337.0 248.8,337.1 250.8,337.2 252.8,337.3 254.8,337.4 256.8,337.5 258.8,337.6 260.8,337.7 262.8,337.8 264.8,337.9 266.9,338.0 268.9,338.1 270.9,338.2 272.9,338.4 274.9,338.5 276.9,338.6 278.9,338.8 280.9,338.9 282.9,339.1 284.9,339.2 286.9,339.4 288.9,339.6 290.9,339.8 292.9,340.0 294.9,340.3 297.0,340.5 299.0,340.8 301.0,341.1 303.0,341.5 304.9,342.1 306.6,342.8 308.2,343.8 309.6,345.2 310.8,346.7 311.9,348.5 312.8,350.3 313.5,352.2 314.1,354.1 314.7,356.0 315.2,358.0 315.6,360.0 315.9,361.9 316.2,363.9 316.5,365.9 316.7,367.9 316.8,369.9 317.0,371.9 317.2,373.9 317.3,375.9 317.4,377.9 317.5,379.9 317.5,382.0 317.6,384.0 319.3,440.0 320.8,365.0 320.8,363.0 320.9,361.0 321.0,359.0 321.1,357.0 321.2,354.9 321.3,352.9 321.5,351.0 321.7,349.0 321.9,347.0 322.2,345.0 322.5,343.0 322.9,341.0 323.3,339.0 323.6,337.1 324.0,335.1 324.3,333.1 324.6,331.1 324.9,329.1 325.2,327.1 325.4,325.2 325.7,323.2 326.0,321.2 326.3,319.2 326.6,317.2 326.9,315.2 327.2,313.2 327.6,311.2 327.9,309.3 328.3,307.3 328.6,305.3 329.1,303.4 329.5,301.4 330.0,299.5 330.5,297.5 331.1,295.6 331.6,293.6 332.1,291.7 332.7,289.8 333.3,287.9 333.9,285.9 334.5,284.0 335.1,282.1 335.6,280.2 336.2,278.2 336.8,276.3 337.4,274.4 338.0,272.5 338.6,270.6 339.2,268.7 339.8,266.7 340.5,264.8 341.1,262.9 341.8,261.0 342.4,259.1 343.1,257.3 343.8,255.4 344.5,253.5 345.1,251.6 345.8,249.7 346.5,247.8 347.1,245.9 347.8,244.0 348.4,242.1 349.1,240.2 349.8,238.3 350.4,236.4 351.1,234.5 351.7,232.6 352.4,230.7 353.0,228.8 353.7,226.9 354.4,225.0 355.0,223.1 355.7,221.2 356.4,219.3 357.0,217.4 357.7,215.5 358.4,213.6 359.0,211.7 359.7,209.9 360.4,208.0 361.1,206.1 361.9,204.2 362.7,202.4 363.5,200.5 364.4,198.8 365.4,197.0 366.4,195.3 367.5,193.6 368.6,191.9 369.8,190.3 371.0,188.7 372.2,187.1 373.5,185.5 374.9,184.0 376.2,182.6 377.6,181.2 379.1,179.8 380.7,178.6 382.3,177.3 383.9,176.2 385.5,175.0 387.2,173.8 388.8,172.6 390.5,171.5 392.1,170.3 393.7,169.1 395.4,168.1 397.1,167.1 398.9,166.1 400.7,165.3 402.5,164.5 404.4,163.7 406.3,163.0 408.2,162.3 410.1,161.6 412.0,160.9 413.9,160.2 415.8,159.6 417.7,158.9 419.6,158.3 421.5,157.6 423.4,157.0 425.3,156.3 427.2,155.7 429.1,155.1 431.1,154.5 433.0,153.9 434.9,153.3 436.8,152.8 438.8,152.3 440.7,151.8 442.7,151.4 444.6,151.0 446.6,150.6 448.6,150.3 450.6,150.0 452.6,149.6 454.5,149.3 456.5,149.0 458.5,148.8 460.5,148.5 462.5,148.1 464.5,147.8 466.5,147.5 468.5,147.1 470.4,146.8 472.4,146.4 474.4,146.0 476.3,145.6 478.3,145.2 480.3,144.7 482.2,144.3 484.2,143.9 486.2,143.5 488.1,143.1 490.1,142.7 492.1,142.4 494.1,142.1 496.1,141.8 498.0,141.5 500.0,141.2 502.0,141.0 504.0,140.8 506.0,140.5 508.0,140.3 510.0,140.1 512.0,139.9 514.0,139.7 516.0,139.4 518.0,139.2 520.0,139.0 522.0,138.8 524.0,138.6 526.0,138.4 528.0,138.2"/>
<polyline class="c" stroke="#0000ff" points="110.0,321.5 112.0,321.7 114.0,321.8 116.0,322.0 118.0,322.2 120.0,322.3 122.0,322.5 124.0,322.6 126.1,322.8 128.1,323.0 130.1,323.1 132.1,323.3 134.1,323.4 136.1,323.6 138.1,323.7 140.1,323.9 142.1,324.1 144.1,324.2 146.1,324.4 148.1,324.5 150.1,324.7 152.1,324.8 154.2,325.0 156.2,325.1 158.2,325.3 160.2,325.4 162.2,325.6 164.2,325.7 166.2,325.9 168.2,326.0 170.2,326.2 172.2,326.3 174.2,326.5 176.2,326.6 178.2,326.8 180.2,327.0 182.3,327.1 184.3,327.3 186.3,327.4 188.3,327.6 190.3,327.7 192.3,327.9 194.3,328.1 196.3,328.2 198.3,328.4 200.3,328.6 202.3,328.7 204.3,328.9 206.3,329.1 208.3,329.2 210.3,329.4 212.3,329.6 214.4,329.8 216.4,329.9 218.4,330.1 220.4,330.3 222.4,330.5 224.4,330.7 226.4,330.8 228.4,331.0 230.4,331.2 232.4,331.4 234.4,331.6 236.4,331.7 238.4,331.9 240.4,332.1 242.4,332.3 244.4,332.5 246.4,332.7 248.4,332.9 250.4,333.1 252.4,333.3 254.5,333.5 256.5,333.7 258.4,334.0 260.4,334.2 262.4,334.4 264.4,334.7 266.4,334.9 268.4,335.2 270.4,335.5 272.4,335.8 274.4,336.1 276.4,336.4 278.4,336.8 280.3,337.1 282.3,337.5 284.3,337.8 286.3,338.2 288.3,338.5 290.3,338.8 292.3,339.1 294.3,339.5 296.2,339.8 298.2,340.1 300.2,340.5 302.2,340.9 304.2,341.4 306.0,342.1 307.6,343.1 309.1,344.3 310.3,345.8 311.4,347.5 312.3,349.3 313.1,351.2 313.8,353.1 314.4,355.0 314.9,357.0 315.4,358.9 315.8,360.9 316.1,362.9 316.3,364.9 316.6,366.9 316.8,368.9 316.9,370.9 317.1,372.9 317.2,374.9 317.3,376.9 317.4,378.9 317.5,381.0 317.6,383.0 317.6,385.0 319.3,462.0 320.8,385.0 320.8,383.0 320.9,381.0 320.9,379.0 321.0,377.0 321.1,375.0 321.2,373.0 321.4,371.0 321.6,369.0 321.9,367.0 322.2,365.0 322.6,363.0 322.9,361.1 323.2,359.1 323.5,357.1 323.7,355.1 323.9,353.1 324.1,351.1 324.3,349.1 324.5,347.1 324.7,345.1 324.9,343.1 325.2,341.1 325.4,339.1 325.7,337.1 325.9,335.1 326.2,333.2 326.6,331.2 326.9,329.2 327.4,327.3 327.8,325.3 328.3,323.3 328.8,321.4 329.3,319.5 329.8,317.5 330.2,315.6 330.7,313.6 331.2,311.7 331.7,309.7 332.2,307.8 332.7,305.8 333.3,303.9 333.8,302.0 334.4,300.1 335.0,298.1 335.6,296.2 336.2,294.3 336.7,292.4 337.3,290.5 337.9,288.5 338.5,286.6 339.1,284.7 339.7,282.8 340.3,280.9 341.0,279.0 341.7,277.1 342.4,275.2 343.1,273.3 343.8,271.5 344.5,269.6 345.3,267.7 346.0,265.9 346.8,264.0 347.5,262.1 348.2,260.3 349.0,258.4 349.7,256.5 350.5,254.7 351.2,252.8 351.9,250.9 352.7,249.1 353.4,247.2 354.2,245.4 354.9,243.5 355.7,241.6 356.4,239.8 357.2,237.9 357.9,236.0 358.7,234.2 359.4,232.3 360.2,230.5 360.9,228.6 361.7,226.7 362.4,224.9 363.2,223.0 363.9,221.2 364.7,219.3 365.4,217.4 366.2,215.6 366.9,213.7 367.6,211.8 368.4,210.0 369.2,208.1 370.0,206.3 370.9,204.5 371.8,202.7 372.7,200.9 373.6,199.1 374.6,197.4 375.6,195.6 376.6,193.9 377.6,192.2 378.7,190.5 379.9,188.8 381.0,187.2 382.2,185.6 383.5,184.1 384.8,182.6 386.2,181.1 387.6,179.6 389.0,178.2 390.4,176.8 391.9,175.4 393.4,174.1 394.9,172.8 396.5,171.5 398.0,170.2 399.6,169.0 401.2,167.8 402.9,166.7 404.6,165.6 406.2,164.5 407.9,163.4 409.6,162.3 411.4,161.3 413.1,160.3 414.9,159.4 416.7,158.5 418.5,157.7 420.3,156.9 422.2,156.2 424.1,155.5 426.0,154.9 427.9,154.2 429.8,153.6 431.7,152.9 433.6,152.3 435.6,151.7 437.5,151.2 439.4,150.6 441.3,150.0 443.3,149.5 445.2,149.0 447.1,148.4 449.1,147.9 451.0,147.4 453.0,146.9 454.9,146.4 456.9,146.0 458.8,145.5 460.8,145.0 462.7,144.6 464.7,144.1 466.6,143.7 468.6,143.2 470.6,142.8 472.5,142.4 474.5,142.0 476.4,141.5 478.4,141.1 480.4,140.7 482.3,140.3 484.3,139.9 486.3,139.5 488.3,139.2 490.2,138.8 492.2,138.5 494.2,138.1 496.2,137.8 498.1,137.5 500.1,137.2 502.1,136.9 504.1,136.7 506.1,136.4 508.1,136.1 510.1,135.9 512.1,135.6 514.1,135.3 516.0,135.1 518.0,134.8 520.0,134.6 522.0,134.3 524.0,134.1 526.0,133.8 528.0,133.6"/>
</g>
<rect x="126.6" y="89.0" width="40.4" height="33.0" fill="#fff"/>
<rect x="133.6" y="175.0" width="58.4" height="34.0" fill="#fff"/>
<rect x="122.8" y="243.4" width="40.8" height="29.1" fill="#fff"/>
<rect x="132.0" y="276.0" width="45.6" height="32.5" fill="#fff"/>
<rect x="126.6" y="343.0" width="79.7" height="33.0" fill="#fff"/>
<rect x="131.2" y="465.0" width="29.0" height="28.0" fill="#fff"/>
<text class="lb" fill="#ff0080" x="126.8" y="116.0">Mg</text>
<text class="lb" fill="#ff0000" x="134.1" y="203.2">Y,</text>
<text class="lb" fill="#ff8000" x="167.3" y="203.2">Ti</text>
<text class="lb" fill="#00ff00" x="131.8" y="267.5">Hf</text>
<text class="lb" fill="#008000" x="133.2" y="300.5">Cu</text>
<text class="lb" fill="#008080" x="129.2" y="368.6">Ag,</text>
<text class="lb" fill="#0000ff" x="178.3" y="368.6">Ni</text>
<text class="lb" fill="#000080" x="128.2" y="416.1">Au</text>
<text class="lb" fill="#800080" x="132.5" y="487.9">Pt</text>
<text class="tl" text-anchor="middle" x="114.7" y="554.2">-1.0</text>
<text class="tl" text-anchor="middle" x="216.7" y="554.2">-0.5</text>
<text class="tl" text-anchor="middle" x="318.6" y="554.2">0.0</text>
<text class="tl" text-anchor="middle" x="420.6" y="554.2">0.5</text>
<text class="tl" text-anchor="middle" x="522.6" y="554.2">1.0</text>
<text class="tl" style="font-size:35px" text-anchor="middle" x="323.0" y="610.4">V (V)</text>
<text x="326.9" y="28.2" style="font-size:37.5px" fill="#000">Metal/n-Si</text>
</g>
<g id="panel2">
<line class="g" x1="692.5" y1="52.1" x2="692.5" y2="517.3"/>
<line class="g" x1="794.6" y1="52.1" x2="794.6" y2="517.3"/>
<line class="g" x1="896.7" y1="52.1" x2="896.7" y2="517.3"/>
<line class="g" x1="590.5" y1="474.8" x2="998.7" y2="474.8"/>
<line class="g" x1="590.5" y1="432.5" x2="998.7" y2="432.5"/>
<line class="g" x1="590.5" y1="390.1" x2="998.7" y2="390.1"/>
<line class="g" x1="590.5" y1="347.7" x2="998.7" y2="347.7"/>
<line class="g" x1="590.5" y1="305.4" x2="998.7" y2="305.4"/>
<line class="g" x1="590.5" y1="263.0" x2="998.7" y2="263.0"/>
<line class="g" x1="590.5" y1="220.6" x2="998.7" y2="220.6"/>
<line class="g" x1="590.5" y1="178.2" x2="998.7" y2="178.2"/>
<line class="g" x1="590.5" y1="135.9" x2="998.7" y2="135.9"/>
<line class="g" x1="590.5" y1="93.5" x2="998.7" y2="93.5"/>
<line class="t" x1="590.5" y1="474.8" x2="601.0" y2="474.8"/>
<line class="t" x1="590.5" y1="432.5" x2="601.0" y2="432.5"/>
<line class="t" x1="590.5" y1="390.1" x2="601.0" y2="390.1"/>
<line class="t" x1="590.5" y1="347.7" x2="601.0" y2="347.7"/>
<line class="t" x1="590.5" y1="305.4" x2="601.0" y2="305.4"/>
<line class="t" x1="590.5" y1="263.0" x2="601.0" y2="263.0"/>
<line class="t" x1="590.5" y1="220.6" x2="601.0" y2="220.6"/>
<line class="t" x1="590.5" y1="178.2" x2="601.0" y2="178.2"/>
<line class="t" x1="590.5" y1="135.9" x2="601.0" y2="135.9"/>
<line class="t" x1="590.5" y1="93.5" x2="601.0" y2="93.5"/>
<line class="t" x1="692.5" y1="517.3" x2="692.5" y2="507.8"/>
<line class="t" x1="794.6" y1="517.3" x2="794.6" y2="507.8"/>
<line class="t" x1="896.7" y1="517.3" x2="896.7" y2="507.8"/>
<line class="t" x1="641.5" y1="517.3" x2="641.5" y2="511.8"/>
<line class="t" x1="743.6" y1="517.3" x2="743.6" y2="511.8"/>
<line class="t" x1="845.6" y1="517.3" x2="845.6" y2="511.8"/>
<line class="t" x1="947.7" y1="517.3" x2="947.7" y2="511.8"/>
<rect class="fr" x="590.5" y="52.1" width="408.2" height="465.2"/>
<clipPath id="clip1"><rect x="589.1" y="52.1" width="409.9" height="464.7"/></clipPath>
<g clip-path="url(#clip1)">
<polyline class="c" stroke="#ff0000" points="585.0,227.4 587.0,227.4 589.0,227.5 591.0,227.5 593.0,227.6 595.0,227.6 597.1,227.7 599.1,227.7 601.1,227.7 603.1,227.8 605.1,227.8 607.1,227.9 609.1,227.9 611.1,228.0 613.1,228.0 615.1,228.1 617.1,228.1 619.2,228.2 621.2,228.3 623.2,228.3 625.2,228.4 627.2,228.4 629.2,228.5 631.2,228.6 633.2,228.6 635.2,228.7 637.2,228.8 639.2,228.9 641.2,229.0 643.2,229.1 645.3,229.2 647.3,229.3 649.3,229.4 651.3,229.6 653.3,229.7 655.3,229.8 657.3,230.0 659.3,230.1 661.3,230.3 663.3,230.4 665.3,230.6 667.3,230.7 669.3,230.9 671.3,231.1 673.3,231.2 675.3,231.4 677.3,231.6 679.3,231.8 681.3,232.0 683.3,232.2 685.3,232.4 687.3,232.7 689.3,232.9 691.3,233.2 693.3,233.4 695.3,233.7 697.3,234.0 699.2,234.3 701.2,234.7 703.2,235.0 705.2,235.3 707.2,235.7 709.2,236.1 711.1,236.5 713.1,236.9 715.0,237.3 717.0,237.8 719.0,238.2 720.9,238.7 722.8,239.2 724.8,239.8 726.7,240.3 728.6,240.9 730.6,241.5 732.5,242.1 734.4,242.7 736.3,243.4 738.2,244.0 740.1,244.7 742.0,245.4 743.9,246.1 745.8,246.8 747.6,247.6 749.5,248.3 751.3,249.1 753.2,250.0 755.0,250.8 756.8,251.7 758.6,252.6 760.4,253.5 762.2,254.4 763.9,255.4 765.7,256.5 767.4,257.5 769.0,258.7 770.6,259.8 772.2,261.0 773.8,262.3 775.3,263.7 776.7,265.1 778.1,266.6 779.4,268.1 780.6,269.7 781.7,271.3 782.8,273.0 783.7,274.8 784.6,276.6 785.3,278.5 786.0,280.4 786.6,282.3 787.2,284.2 787.7,286.2 788.1,288.1 788.5,290.1 788.9,292.1 789.3,294.1 789.6,296.1 789.9,298.0 790.2,300.0 790.5,302.0 790.8,304.0 791.1,306.0 791.3,308.0 791.5,310.0 793.8,330.0 794.8,315.0 794.9,313.0 795.1,311.0 795.2,309.0 795.4,307.0 795.5,305.0 795.7,303.0 795.9,301.0 796.1,299.0 796.3,297.0 796.6,295.0 796.8,293.0 797.1,291.0 797.4,289.0 797.7,287.0 798.0,285.0 798.3,283.0 798.7,281.1 799.1,279.1 799.5,277.1 799.9,275.2 800.3,273.2 800.7,271.2 801.2,269.3 801.7,267.3 802.2,265.4 802.7,263.4 803.3,261.5 803.8,259.6 804.3,257.6 804.8,255.7 805.3,253.7 805.7,251.8 806.1,249.8 806.6,247.8 807.0,245.8 807.4,243.9 807.8,241.9 808.2,239.9 808.6,237.9 809.0,236.0 809.5,234.0 810.0,232.1 810.5,230.2 811.1,228.2 811.7,226.3 812.3,224.4 813.0,222.5 813.8,220.7 814.5,218.8 815.3,216.9 816.1,215.1 817.0,213.3 817.8,211.5 818.8,209.7 819.7,207.9 820.7,206.2 821.8,204.5 822.8,202.8 823.9,201.0 824.9,199.3 825.9,197.6 826.9,195.8 827.8,194.0 828.7,192.1 829.5,190.3 830.4,188.5 831.3,186.6 832.1,184.8 833.0,183.0 834.0,181.2 835.0,179.5 836.0,177.8 837.1,176.2 838.3,174.6 839.5,173.1 840.9,171.6 842.2,170.1 843.7,168.6 845.1,167.2 846.7,165.8 848.2,164.5 849.8,163.3 851.3,162.0 853.0,160.9 854.6,159.7 856.3,158.6 858.1,157.6 859.8,156.6 861.7,155.7 863.5,155.0 865.4,154.3 867.3,153.7 869.2,153.2 871.2,152.7 873.1,152.3 875.1,151.9 877.1,151.6 879.1,151.3 881.1,151.1 883.1,150.8 885.1,150.6 887.1,150.4 889.1,150.1 891.1,149.8 893.0,149.5 895.0,149.1 897.0,148.7 898.9,148.2 900.9,147.7 902.8,147.2 904.8,146.6 906.7,146.1 908.6,145.6 910.6,145.1 912.5,144.6 914.5,144.1 916.5,143.7 918.4,143.3 920.4,142.9 922.4,142.5 924.3,142.1 926.3,141.8 928.3,141.4 930.3,141.0 932.3,140.7 934.2,140.4 936.2,140.0 938.2,139.7 940.2,139.4 942.2,139.1 944.2,138.7 946.2,138.4 948.1,138.1 950.1,137.8 952.1,137.5 954.1,137.2 956.1,137.0 958.1,136.7 960.1,136.4 962.1,136.1 964.1,135.8 966.1,135.6 968.0,135.3 970.0,135.1 972.0,134.8 974.0,134.5 976.0,134.3 978.0,134.0 980.0,133.8 982.0,133.6 984.0,133.3 986.0,133.1 988.0,132.9 990.0,132.6 992.0,132.4 994.0,132.2 996.0,132.0 998.0,131.8 1000.0,131.6 1002.0,131.4"/>
<polyline class="c" stroke="#ff0080" points="585.0,217.3 587.0,217.4 589.0,217.5 591.0,217.6 593.0,217.6 595.0,217.7 597.1,217.8 599.1,217.9 601.1,218.0 603.1,218.1 605.1,218.3 607.1,218.4 609.1,218.5 611.1,218.6 613.1,218.7 615.1,218.8 617.1,218.9 619.1,219.0 621.2,219.2 623.2,219.3 625.2,219.4 627.2,219.5 629.2,219.6 631.2,219.7 633.2,219.8 635.2,220.0 637.2,220.1 639.2,220.2 641.2,220.3 643.2,220.4 645.3,220.5 647.3,220.6 649.3,220.7 651.3,220.8 653.3,220.9 655.3,221.0 657.3,221.1 659.3,221.2 661.3,221.3 663.3,221.4 665.3,221.5 667.4,221.6 669.4,221.7 671.4,221.8 673.4,221.9 675.4,222.0 677.4,222.1 679.4,222.3 681.4,222.4 683.4,222.5 685.4,222.6 687.4,222.7 689.4,222.8 691.5,223.0 693.5,223.1 695.5,223.2 697.5,223.4 699.5,223.5 701.5,223.6 703.5,223.7 705.5,223.9 707.5,224.0 709.5,224.2 711.5,224.3 713.5,224.5 715.5,224.6 717.5,224.7 719.5,224.9 721.6,225.1 723.6,225.2 725.6,225.4 727.6,225.5 729.6,225.7 731.6,225.9 733.6,226.0 735.6,226.2 737.6,226.4 739.6,226.6 741.6,226.7 743.6,226.9 745.6,227.1 747.6,227.3 749.6,227.4 751.6,227.6 753.7,227.8 755.7,228.0 757.7,228.2 759.7,228.5 761.7,228.7 763.6,229.0 765.6,229.2 767.6,229.5 769.6,229.8 771.6,230.1 773.6,230.5 775.6,231.0 777.5,231.5 779.4,232.1 781.2,232.9 782.9,233.9 784.4,235.1 785.7,236.6 786.7,238.2 787.5,240.0 788.2,241.9 788.7,243.9 789.1,245.9 789.4,247.9 789.7,249.9 790.0,251.9 790.2,253.9 790.4,255.9 790.6,257.9 790.8,259.9 790.9,261.9 791.1,263.9 791.2,265.9 791.4,267.9 791.5,269.9 791.7,271.9 791.8,273.9 791.9,275.9 792.0,278.0 792.1,280.0 792.2,282.0 792.2,284.0 793.8,315.0 795.5,300.0 795.6,298.0 795.7,296.0 795.9,294.0 796.0,292.0 796.1,290.0 796.2,288.0 796.3,285.9 796.5,283.9 796.6,281.9 796.7,279.9 796.8,277.9 796.9,275.9 797.1,273.9 797.2,271.9 797.3,269.9 797.4,267.9 797.5,265.9 797.6,263.9 797.8,261.9 797.9,259.9 798.0,257.8 798.1,255.8 798.3,253.8 798.4,251.8 798.5,249.8 798.6,247.8 798.8,245.8 798.9,243.8 799.1,241.8 799.2,239.8 799.3,237.8 799.5,235.8 799.7,233.8 799.8,231.8 800.0,229.8 800.2,227.8 800.4,225.8 800.7,223.8 800.9,221.8 801.2,219.8 801.5,217.8 801.9,215.8 802.3,213.8 802.7,211.8 803.1,209.9 803.5,207.9 804.0,205.9 804.5,204.0 805.0,202.1 805.5,200.1 806.1,198.2 806.7,196.3 807.4,194.4 808.2,192.6 809.0,190.7 809.8,188.9 810.6,187.0 811.5,185.2 812.4,183.4 813.4,181.6 814.3,179.9 815.4,178.1 816.4,176.4 817.5,174.7 818.6,173.0 819.8,171.4 820.9,169.8 822.2,168.2 823.4,166.6 824.7,165.0 826.1,163.5 827.5,162.1 828.9,160.7 830.4,159.3 831.9,158.1 833.5,156.9 835.1,155.7 836.8,154.6 838.6,153.5 840.3,152.5 842.0,151.5 843.8,150.6 845.6,149.7 847.4,148.8 849.2,147.9 851.1,147.1 852.9,146.3 854.8,145.5 856.6,144.7 858.5,143.9 860.3,143.2 862.2,142.4 864.1,141.7 866.0,141.0 867.9,140.3 869.7,139.6 871.6,139.0 873.6,138.3 875.5,137.7 877.4,137.1 879.3,136.5 881.2,135.9 883.1,135.3 885.1,134.7 887.0,134.2 888.9,133.6 890.9,133.1 892.8,132.6 894.8,132.1 896.7,131.6 898.7,131.1 900.6,130.6 902.6,130.1 904.5,129.7 906.5,129.2 908.5,128.8 910.4,128.3 912.4,127.9 914.4,127.5 916.3,127.1 918.3,126.7 920.3,126.3 922.2,125.9 924.2,125.6 926.2,125.2 928.2,124.9 930.2,124.6 932.1,124.2 934.1,123.9 936.1,123.6 938.1,123.3 940.1,123.0 942.1,122.7 944.1,122.4 946.1,122.1 948.1,121.8 950.1,121.6 952.0,121.3 954.0,121.0 956.0,120.8 958.0,120.5 960.0,120.3 962.0,120.0 964.0,119.8 966.0,119.5 968.0,119.3 970.0,119.1 972.0,118.8 974.0,118.6 976.0,118.4 978.0,118.2 980.0,117.9 982.0,117.7 984.0,117.5 986.0,117.3 988.0,117.1 990.0,116.9 992.0,116.7 994.0,116.5 996.0,116.3 998.0,116.1 1000.0,115.9 1002.0,115.7"/>
<polyline class="c" stroke="#ff8000" points="585.0,285.0 587.0,285.1 589.0,285.2 591.0,285.3 593.0,285.5 595.1,285.6 597.1,285.8 599.1,286.0 601.1,286.1 603.1,286.3 605.1,286.5 607.1,286.8 609.1,287.0 611.1,287.2 613.1,287.4 615.1,287.6 617.1,287.9 619.1,288.1 621.1,288.3 623.1,288.6 625.1,288.8 627.1,289.0 629.2,289.3 631.2,289.5 633.2,289.7 635.2,289.9 637.2,290.1 639.2,290.3 641.2,290.5 643.2,290.8 645.2,291.0 647.2,291.2 649.2,291.4 651.2,291.7 653.2,291.9 655.2,292.1 657.2,292.3 659.2,292.6 661.2,292.8 663.2,293.0 665.3,293.2 667.3,293.5 669.3,293.7 671.3,293.9 673.3,294.1 675.3,294.3 677.3,294.4 679.3,294.6 681.3,294.8 683.3,294.9 685.3,295.1 687.3,295.2 689.3,295.3 691.4,295.5 693.4,295.6 695.4,295.6 697.4,295.7 699.4,295.8 701.4,295.9 703.4,295.9 705.5,296.0 707.5,296.1 709.5,296.1 711.5,296.2 713.5,296.2 715.5,296.3 717.6,296.3 719.6,296.4 721.6,296.4 723.6,296.5 725.6,296.6 727.6,296.6 729.7,296.7 731.7,296.8 733.7,296.9 735.7,297.0 737.7,297.1 739.7,297.2 741.7,297.4 743.8,297.5 745.8,297.6 747.8,297.8 749.8,298.0 751.9,298.2 753.9,298.4 755.9,298.6 757.9,298.8 759.9,299.1 761.9,299.3 763.9,299.6 765.9,299.9 767.8,300.2 769.8,300.6 771.8,301.0 773.8,301.4 775.9,301.9 777.8,302.6 779.7,303.3 781.5,304.1 783.1,305.1 784.5,306.4 785.8,307.8 786.9,309.5 787.8,311.3 788.6,313.2 789.3,315.1 789.9,317.0 790.5,318.9 790.9,320.9 791.2,322.9 791.5,325.0 793.8,345.0 796.2,355.0 796.3,353.0 796.4,351.0 796.5,349.0 796.5,347.0 796.6,345.0 796.7,343.0 796.8,341.0 796.9,339.0 797.1,337.0 797.2,335.0 797.3,333.0 797.4,331.0 797.6,329.0 797.7,327.0 797.9,325.0 798.0,323.0 798.2,320.9 798.4,318.9 798.6,317.0 798.8,315.0 799.0,313.0 799.3,311.0 799.5,309.0 799.8,307.0 800.0,305.0 800.3,303.0 800.6,301.0 801.0,299.1 801.4,297.1 801.7,295.1 802.2,293.2 802.6,291.2 803.0,289.2 803.4,287.3 803.9,285.3 804.3,283.4 804.7,281.4 805.1,279.4 805.5,277.5 805.9,275.5 806.3,273.5 806.6,271.5 807.0,269.6 807.4,267.6 807.8,265.6 808.2,263.7 808.6,261.7 809.0,259.7 809.4,257.8 809.8,255.8 810.3,253.9 810.7,251.9 811.1,249.9 811.6,248.0 812.0,246.0 812.5,244.1 812.9,242.1 813.4,240.1 813.9,238.2 814.4,236.3 815.0,234.3 815.5,232.4 816.2,230.5 816.8,228.6 817.5,226.8 818.3,224.9 819.0,223.0 819.8,221.2 820.5,219.3 821.1,217.4 821.8,215.5 822.4,213.6 823.0,211.7 823.6,209.7 824.2,207.8 824.8,205.9 825.4,204.0 826.0,202.1 826.7,200.2 827.4,198.3 828.1,196.5 828.8,194.6 829.6,192.7 830.4,190.9 831.2,189.0 832.0,187.2 832.9,185.3 833.8,183.5 834.7,181.7 835.7,180.0 836.7,178.3 837.7,176.6 838.8,174.9 840.0,173.3 841.2,171.7 842.5,170.2 843.8,168.7 845.2,167.2 846.6,165.7 848.0,164.3 849.5,162.9 851.0,161.6 852.6,160.4 854.1,159.1 855.8,158.0 857.4,156.8 859.1,155.7 860.8,154.6 862.5,153.6 864.3,152.6 866.0,151.7 867.8,150.7 869.6,149.9 871.4,149.0 873.3,148.1 875.1,147.3 876.9,146.5 878.7,145.6 880.5,144.8 882.4,143.9 884.2,143.0 886.0,142.2 887.8,141.3 889.6,140.5 891.5,139.7 893.3,138.9 895.2,138.1 897.0,137.3 898.9,136.6 900.7,135.9 902.6,135.2 904.5,134.5 906.4,133.9 908.3,133.2 910.2,132.6 912.2,132.0 914.1,131.4 916.0,130.8 917.9,130.3 919.9,129.7 921.8,129.3 923.7,128.8 925.7,128.3 927.6,127.9 929.6,127.5 931.6,127.0 933.5,126.6 935.5,126.3 937.5,125.9 939.4,125.5 941.4,125.1 943.4,124.8 945.4,124.4 947.4,124.1 949.3,123.8 951.3,123.4 953.3,123.1 955.3,122.8 957.3,122.5 959.2,122.2 961.2,121.8 963.2,121.5 965.2,121.2 967.2,120.9 969.2,120.6 971.1,120.3 973.1,120.0 975.1,119.8 977.1,119.5 979.1,119.2 981.1,118.9 983.1,118.7 985.1,118.4 987.0,118.1 989.0,117.9 991.0,117.7 993.0,117.4 995.0,117.2 997.0,117.0 999.0,116.8 1001.0,116.6 1003.0,116.4"/>
<polyline class="c" stroke="#000080" points="585.0,293.0 586.9,293.6 588.9,294.1 590.8,294.7 592.7,295.2 594.7,295.7 596.6,296.2 598.6,296.7 600.6,297.2 602.5,297.7 604.5,298.1 606.4,298.6 608.4,299.1 610.3,299.6 612.3,300.2 614.2,300.7 616.2,301.2 618.1,301.8 620.1,302.3 622.0,302.9 623.9,303.4 625.9,304.0 627.8,304.6 629.7,305.2 631.6,305.8 633.6,306.4 635.5,307.0 637.4,307.6 639.3,308.3 641.2,308.9 643.1,309.6 645.0,310.3 646.9,311.0 648.8,311.6 650.7,312.3 652.6,313.0 654.5,313.6 656.4,314.2 658.4,314.8 660.3,315.4 662.2,316.0 664.2,316.6 666.1,317.3 668.0,317.9 669.8,318.6 671.7,319.4 673.5,320.2 675.3,321.1 677.1,322.1 678.9,323.0 680.6,324.0 682.4,325.1 684.1,326.1 685.8,327.1 687.5,328.2 689.2,329.3 690.9,330.4 692.6,331.5 694.4,332.5 696.1,333.5 697.9,334.4 699.7,335.3 701.5,336.1 703.4,336.9 705.3,337.6 707.2,338.3 709.1,339.0 711.0,339.7 712.8,340.4 714.7,341.2 716.6,342.0 718.4,342.8 720.2,343.6 722.0,344.5 723.9,345.4 725.6,346.3 727.4,347.3 729.2,348.3 730.9,349.2 732.7,350.3 734.4,351.3 736.1,352.4 737.8,353.5 739.5,354.5 741.2,355.6 742.9,356.7 744.7,357.7 746.4,358.7 748.2,359.6 750.0,360.6 751.8,361.5 753.6,362.4 755.4,363.3 757.2,364.2 759.0,365.1 760.7,366.2 762.4,367.2 764.1,368.3 765.8,369.4 767.5,370.6 769.1,371.8 770.8,373.0 772.3,374.3 773.8,375.6 775.3,376.9 776.7,378.3 778.1,379.8 779.5,381.3 780.8,382.9 782.0,384.5 783.1,386.2 784.1,387.9 785.1,389.6 786.0,391.5 786.8,393.3 787.5,395.2 788.1,397.1 788.7,399.1 789.1,401.0 789.6,403.0 789.9,404.9 790.2,406.9 790.5,408.9 790.7,410.9 790.9,413.0 791.0,415.0 793.3,470.0 793.8,523.0 794.3,470.0 795.5,420.0 795.5,418.0 795.6,415.9 795.6,413.9 795.7,411.9 795.8,409.9 795.9,407.8 796.0,405.8 796.2,403.8 796.3,401.8 796.5,399.8 796.7,397.8 796.9,395.8 797.1,393.8 797.3,391.8 797.5,389.9 797.7,387.9 798.0,385.9 798.2,383.9 798.5,381.9 798.8,380.0 799.1,378.0 799.5,376.0 800.0,374.1 800.5,372.1 801.0,370.2 801.6,368.3 802.1,366.3 802.7,364.4 803.3,362.5 803.9,360.6 804.5,358.7 805.1,356.8 805.8,354.9 806.5,353.0 807.1,351.1 807.8,349.2 808.5,347.3 809.2,345.4 809.9,343.5 810.6,341.6 811.3,339.8 812.0,337.9 812.7,336.0 813.5,334.1 814.2,332.2 814.9,330.4 815.5,328.5 816.2,326.6 816.9,324.7 817.5,322.8 818.2,320.9 818.8,319.0 819.5,317.1 820.1,315.2 820.8,313.3 821.5,311.4 822.1,309.5 822.8,307.6 823.5,305.7 824.2,303.8 824.9,302.0 825.6,300.1 826.4,298.2 827.1,296.4 827.9,294.5 828.6,292.6 829.4,290.8 830.1,288.9 830.9,287.1 831.6,285.2 832.4,283.3 833.2,281.5 833.9,279.6 834.7,277.8 835.4,275.9 836.2,274.0 837.0,272.2 837.8,270.3 838.5,268.5 839.3,266.6 840.0,264.8 840.8,262.9 841.5,261.0 842.2,259.1 842.9,257.3 843.5,255.4 844.2,253.5 844.8,251.5 845.4,249.6 846.0,247.7 846.6,245.8 847.2,243.9 847.7,241.9 848.3,240.0 848.9,238.1 849.5,236.2 850.2,234.3 850.8,232.4 851.4,230.5 852.0,228.5 852.7,226.6 853.3,224.7 853.9,222.8 854.6,220.9 855.3,219.0 856.0,217.2 856.7,215.3 857.4,213.4 858.1,211.5 858.9,209.7 859.7,207.8 860.4,206.0 861.2,204.1 862.1,202.3 862.9,200.5 863.7,198.6 864.5,196.8 865.4,195.0 866.3,193.2 867.1,191.4 868.0,189.6 868.9,187.8 869.8,186.0 870.8,184.2 871.7,182.4 872.7,180.7 873.6,178.9 874.6,177.1 875.6,175.4 876.6,173.6 877.7,171.9 878.8,170.2 879.9,168.6 881.2,167.1 882.5,165.5 883.8,164.1 885.2,162.6 886.7,161.2 888.2,159.9 889.7,158.6 891.3,157.4 893.0,156.2 894.6,155.1 896.4,154.1 898.1,153.1 899.8,152.1 901.6,151.1 903.3,150.1 905.1,149.1 906.9,148.1 908.6,147.2 910.4,146.2 912.2,145.4 914.0,144.5 915.8,143.6 917.7,142.8 919.5,142.0 921.3,141.2 923.2,140.4 925.0,139.6 926.9,138.8 928.8,138.0 930.6,137.3 932.5,136.5 934.4,135.8 936.3,135.1 938.2,134.4 940.1,133.7 942.0,133.0 943.9,132.4 945.8,131.8 947.7,131.2 949.6,130.6 951.6,130.1 953.5,129.6 955.4,129.1 957.4,128.7 959.3,128.2 961.3,127.8 963.2,127.4 965.2,127.0 967.1,126.6 969.1,126.2 971.1,125.9 973.1,125.5 975.1,125.2 977.0,124.8 979.0,124.5 981.0,124.2 983.0,123.9 985.0,123.6 987.0,123.3 989.0,123.1 991.0,122.8 993.0,122.6 995.0,122.3 997.0,122.1 999.0,121.9 1001.0,121.7 1003.0,121.5"/>
<polyline class="c" stroke="#800080" points="585.0,306.5 586.9,307.1 588.9,307.7 590.8,308.3 592.7,308.9 594.6,309.5 596.5,310.1 598.4,310.7 600.3,311.3 602.3,312.0 604.2,312.6 606.1,313.3 608.0,313.9 609.9,314.6 611.7,315.3 613.6,316.0 615.5,316.7 617.4,317.4 619.2,318.2 621.1,318.9 623.0,319.7 624.8,320.4 626.7,321.2 628.6,322.0 630.4,322.7 632.3,323.5 634.1,324.2 636.0,325.0 637.9,325.7 639.7,326.5 641.6,327.2 643.5,328.0 645.3,328.7 647.2,329.5 649.1,330.2 650.9,330.9 652.8,331.7 654.7,332.4 656.5,333.2 658.4,334.0 660.3,334.7 662.1,335.5 664.0,336.2 665.9,337.0 667.7,337.8 669.6,338.5 671.4,339.3 673.3,340.1 675.1,340.9 677.0,341.6 678.8,342.4 680.7,343.2 682.5,344.0 684.4,344.8 686.2,345.6 688.1,346.3 690.0,347.1 691.8,347.9 693.7,348.7 695.5,349.5 697.4,350.3 699.2,351.1 701.1,351.9 702.9,352.7 704.7,353.5 706.6,354.3 708.4,355.1 710.2,355.9 712.1,356.8 713.9,357.6 715.7,358.5 717.5,359.3 719.3,360.2 721.1,361.1 723.0,362.0 724.8,362.9 726.5,363.8 728.3,364.7 730.1,365.6 731.9,366.6 733.7,367.5 735.4,368.5 737.2,369.4 739.0,370.4 740.7,371.4 742.5,372.4 744.2,373.4 746.0,374.4 747.7,375.4 749.4,376.4 751.2,377.5 752.9,378.5 754.6,379.6 756.3,380.7 758.0,381.8 759.6,382.9 761.3,384.0 763.0,385.1 764.7,386.2 766.3,387.4 768.0,388.5 769.6,389.7 771.2,391.0 772.8,392.2 774.3,393.5 775.8,394.9 777.2,396.3 778.5,397.8 779.9,399.3 781.1,400.9 782.3,402.5 783.4,404.2 784.4,405.9 785.4,407.7 786.2,409.5 787.0,411.4 787.7,413.2 788.3,415.2 788.8,417.1 789.3,419.0 789.7,421.0 790.1,423.0 790.4,424.9 790.7,426.9 791.0,428.9 791.2,430.9 791.4,433.0 791.5,435.0 793.3,462.0 793.8,503.0 794.3,462.0 796.0,450.0 796.1,448.0 796.2,446.0 796.4,444.0 796.5,442.0 796.6,440.0 796.8,438.0 796.9,436.0 797.1,434.0 797.2,432.0 797.4,430.0 797.6,428.0 797.8,426.0 797.9,424.0 798.1,422.0 798.3,420.0 798.5,418.0 798.8,416.0 799.0,414.0 799.3,412.0 799.5,410.0 799.8,408.1 800.1,406.1 800.5,404.1 800.9,402.1 801.3,400.2 801.7,398.2 802.2,396.2 802.7,394.3 803.2,392.4 803.7,390.4 804.2,388.5 804.8,386.6 805.4,384.7 806.0,382.8 806.7,380.9 807.3,379.0 808.0,377.1 808.7,375.2 809.4,373.3 810.1,371.4 810.8,369.5 811.5,367.7 812.2,365.8 812.9,363.9 813.6,362.0 814.3,360.2 815.0,358.3 815.7,356.4 816.4,354.5 817.1,352.6 817.8,350.7 818.4,348.8 819.1,346.9 819.7,345.0 820.4,343.1 821.0,341.2 821.7,339.3 822.3,337.4 823.0,335.6 823.7,333.7 824.4,331.8 825.1,329.9 825.8,328.0 826.5,326.2 827.2,324.3 827.9,322.4 828.7,320.6 829.4,318.7 830.2,316.8 830.9,315.0 831.7,313.1 832.5,311.3 833.2,309.4 834.0,307.5 834.7,305.7 835.5,303.8 836.2,302.0 837.0,300.1 837.7,298.2 838.4,296.4 839.2,294.5 839.9,292.6 840.7,290.8 841.4,288.9 842.2,287.0 842.9,285.2 843.7,283.3 844.4,281.5 845.2,279.6 845.9,277.8 846.7,275.9 847.5,274.1 848.3,272.2 849.1,270.4 849.9,268.5 850.7,266.7 851.4,264.8 852.2,263.0 853.0,261.1 853.7,259.3 854.4,257.4 855.2,255.5 855.8,253.6 856.5,251.8 857.2,249.9 857.8,248.0 858.4,246.1 859.1,244.1 859.7,242.2 860.3,240.3 860.9,238.4 861.6,236.5 862.2,234.6 862.8,232.7 863.5,230.8 864.1,228.9 864.7,227.0 865.3,225.1 866.0,223.2 866.6,221.3 867.3,219.4 867.9,217.5 868.6,215.6 869.3,213.7 870.0,211.8 870.7,210.0 871.5,208.1 872.2,206.2 873.0,204.4 873.8,202.5 874.6,200.7 875.4,198.9 876.3,197.1 877.1,195.3 878.0,193.5 878.9,191.7 879.8,189.9 880.8,188.1 881.7,186.3 882.7,184.5 883.7,182.8 884.7,181.0 885.8,179.4 886.9,177.7 888.1,176.1 889.3,174.6 890.6,173.1 892.0,171.6 893.4,170.2 894.8,168.7 896.3,167.3 897.7,165.9 899.1,164.5 900.5,163.0 901.9,161.6 903.4,160.2 904.8,158.8 906.3,157.4 907.8,156.2 909.4,155.0 911.0,153.8 912.7,152.7 914.4,151.6 916.1,150.6 917.9,149.6 919.7,148.7 921.5,147.8 923.3,146.9 925.1,146.0 926.9,145.2 928.8,144.4 930.6,143.6 932.5,142.9 934.4,142.2 936.2,141.5 938.1,140.8 940.0,140.2 941.9,139.6 943.9,139.0 945.8,138.4 947.7,137.8 949.6,137.3 951.6,136.8 953.5,136.3 955.5,135.8 957.4,135.4 959.4,134.9 961.3,134.5 963.3,134.2 965.3,133.8 967.3,133.4 969.2,133.1 971.2,132.7 973.2,132.4 975.2,132.1 977.2,131.7 979.1,131.4 981.1,131.1 983.1,130.7 985.1,130.4 987.1,130.1 989.0,129.8 991.0,129.5 993.0,129.3 995.0,129.0 997.0,128.8 999.0,128.6 1001.0,128.5 1003.0,128.3"/>
<polyline class="c" stroke="#0000ff" points="585.0,289.5 587.0,289.7 589.0,289.9 591.0,290.1 593.0,290.3 595.0,290.5 597.0,290.7 599.0,291.0 601.0,291.2 603.0,291.4 605.0,291.6 607.0,291.9 609.0,292.1 611.0,292.3 613.0,292.5 615.0,292.8 617.0,293.0 619.0,293.2 621.0,293.4 623.0,293.6 625.0,293.9 627.0,294.1 629.0,294.3 631.0,294.5 633.0,294.7 635.0,294.9 637.0,295.1 639.0,295.3 641.0,295.5 643.0,295.7 645.0,295.9 647.0,296.1 649.0,296.2 651.0,296.4 653.1,296.6 655.1,296.8 657.1,297.0 659.1,297.1 661.1,297.3 663.1,297.5 665.1,297.7 667.1,297.8 669.1,298.0 671.1,298.2 673.1,298.4 675.1,298.5 677.1,298.7 679.1,298.9 681.1,299.1 683.1,299.2 685.1,299.4 687.1,299.6 689.1,299.8 691.1,300.0 693.1,300.1 695.2,300.3 697.2,300.5 699.2,300.6 701.2,300.8 703.2,301.0 705.2,301.2 707.2,301.3 709.2,301.5 711.2,301.7 713.2,301.9 715.2,302.1 717.2,302.2 719.2,302.4 721.2,302.6 723.2,302.8 725.2,303.0 727.2,303.2 729.2,303.3 731.2,303.5 733.2,303.7 735.2,303.9 737.2,304.1 739.3,304.3 741.3,304.5 743.3,304.7 745.3,304.9 747.3,305.2 749.2,305.4 751.2,305.7 753.3,305.9 755.3,306.2 757.3,306.5 759.3,306.8 761.3,307.1 763.3,307.4 765.3,307.8 767.2,308.2 769.2,308.6 771.1,309.1 773.1,309.7 775.0,310.4 777.0,311.2 778.8,312.1 780.6,313.1 782.1,314.2 783.5,315.4 784.8,316.8 785.9,318.4 786.9,320.2 787.8,322.1 788.5,324.0 789.1,326.0 789.6,327.9 790.0,329.8 790.3,331.8 790.6,333.7 790.8,335.7 791.1,337.7 791.3,339.7 791.4,341.7 791.6,343.7 791.7,345.8 791.7,347.9 791.8,350.0 793.8,420.0 797.0,355.0 797.2,353.0 797.4,351.0 797.6,349.0 797.8,347.0 798.0,345.0 798.2,343.0 798.5,341.0 798.7,339.0 799.0,337.0 799.3,335.0 799.6,333.1 799.9,331.1 800.2,329.1 800.5,327.1 800.8,325.1 801.2,323.2 801.5,321.2 801.9,319.2 802.3,317.3 802.7,315.3 803.2,313.3 803.6,311.4 804.0,309.4 804.5,307.4 804.9,305.5 805.3,303.5 805.8,301.6 806.2,299.6 806.7,297.7 807.2,295.7 807.7,293.8 808.2,291.8 808.6,289.9 809.1,287.9 809.7,286.0 810.2,284.0 810.7,282.1 811.2,280.2 811.8,278.2 812.3,276.3 812.9,274.4 813.4,272.4 814.0,270.5 814.6,268.6 815.2,266.7 815.8,264.8 816.4,262.8 816.9,260.9 817.5,259.0 818.1,257.1 818.7,255.1 819.3,253.2 819.8,251.3 820.4,249.4 821.0,247.4 821.5,245.5 822.1,243.6 822.6,241.7 823.2,239.7 823.8,237.8 824.4,235.9 825.0,234.0 825.6,232.1 826.2,230.2 826.9,228.3 827.5,226.4 828.2,224.5 828.9,222.6 829.6,220.7 830.3,218.8 831.0,217.0 831.8,215.1 832.5,213.2 833.3,211.4 834.0,209.5 834.8,207.7 835.6,205.8 836.4,204.0 837.2,202.1 838.1,200.3 838.9,198.5 839.8,196.7 840.6,194.9 841.5,193.0 842.4,191.2 843.3,189.4 844.2,187.6 845.1,185.8 846.0,184.1 847.0,182.3 847.9,180.5 848.9,178.7 849.9,177.0 850.9,175.3 852.0,173.6 853.1,171.9 854.2,170.3 855.4,168.6 856.6,167.0 857.8,165.4 859.1,163.8 860.4,162.3 861.7,160.8 863.1,159.4 864.5,158.0 866.0,156.6 867.5,155.3 869.0,154.0 870.6,152.8 872.3,151.6 873.9,150.4 875.6,149.3 877.3,148.2 879.0,147.2 880.7,146.2 882.4,145.2 884.2,144.2 886.0,143.3 887.8,142.4 889.6,141.6 891.5,140.7 893.3,139.9 895.2,139.1 897.0,138.3 898.9,137.6 900.7,136.9 902.6,136.1 904.5,135.4 906.4,134.8 908.3,134.1 910.2,133.4 912.1,132.8 914.0,132.2 916.0,131.6 917.9,131.1 919.8,130.6 921.8,130.1 923.7,129.6 925.7,129.1 927.6,128.7 929.6,128.3 931.5,127.8 933.5,127.4 935.5,127.1 937.4,126.7 939.4,126.3 941.4,125.9 943.4,125.6 945.4,125.3 947.3,124.9 949.3,124.6 951.3,124.2 953.3,123.9 955.3,123.6 957.3,123.3 959.2,122.9 961.2,122.6 963.2,122.3 965.2,122.0 967.2,121.7 969.2,121.4 971.1,121.0 973.1,120.7 975.1,120.5 977.1,120.2 979.1,119.9 981.1,119.6 983.1,119.3 985.1,119.0 987.0,118.8 989.0,118.5 991.0,118.3 993.0,118.0 995.0,117.8 997.0,117.6 999.0,117.4 1001.0,117.2 1003.0,117.0"/>
<polyline class="c" stroke="#00ff00" points="585.0,302.8 587.0,303.2 589.0,303.6 590.9,304.0 592.9,304.4 594.9,304.8 596.8,305.3 598.8,305.7 600.8,306.2 602.7,306.6 604.7,307.1 606.6,307.6 608.6,308.1 610.5,308.6 612.5,309.2 614.4,309.7 616.4,310.3 618.3,310.9 620.2,311.5 622.1,312.0 624.1,312.7 626.0,313.3 627.9,313.9 629.8,314.4 631.8,315.0 633.7,315.6 635.6,316.1 637.6,316.7 639.5,317.2 641.5,317.7 643.4,318.2 645.4,318.7 647.3,319.2 649.3,319.7 651.3,320.1 653.2,320.6 655.2,321.1 657.1,321.6 659.1,322.0 661.1,322.5 663.0,323.0 665.0,323.5 666.9,324.0 668.9,324.5 670.8,325.0 672.8,325.5 674.7,326.0 676.7,326.5 678.6,327.0 680.6,327.5 682.6,327.9 684.5,328.4 686.5,328.8 688.5,329.3 690.4,329.7 692.4,330.1 694.4,330.4 696.4,330.8 698.3,331.1 700.3,331.5 702.3,331.8 704.3,332.1 706.3,332.5 708.3,332.8 710.3,333.1 712.3,333.4 714.3,333.7 716.3,333.9 718.3,334.2 720.3,334.5 722.3,334.8 724.2,335.1 726.2,335.4 728.2,335.7 730.2,335.9 732.2,336.2 734.2,336.5 736.2,336.7 738.2,337.0 740.2,337.2 742.2,337.5 744.2,337.7 746.2,338.0 748.2,338.2 750.2,338.5 752.2,338.8 754.2,339.0 756.2,339.3 758.2,339.6 760.2,339.9 762.2,340.2 764.2,340.5 766.2,340.7 768.2,341.1 770.2,341.4 772.2,341.7 774.2,342.2 776.2,342.6 778.1,343.2 780.1,343.9 781.9,344.8 783.5,345.8 784.9,347.0 786.1,348.5 787.1,350.2 787.9,352.1 788.6,354.0 789.1,356.0 789.6,357.9 789.9,359.9 790.3,361.8 790.5,363.8 790.7,365.9 790.9,367.9 791.0,370.0 793.8,467.0 796.5,380.0 796.7,378.0 796.8,376.0 797.0,374.0 797.2,372.0 797.4,370.0 797.6,368.0 797.8,366.0 798.0,364.0 798.2,362.0 798.4,360.0 798.7,358.0 798.9,356.0 799.1,354.1 799.4,352.1 799.6,350.1 799.8,348.1 800.1,346.1 800.4,344.1 800.6,342.1 800.9,340.1 801.2,338.1 801.5,336.2 801.8,334.2 802.1,332.2 802.5,330.2 802.9,328.3 803.3,326.3 803.7,324.3 804.1,322.4 804.6,320.4 805.1,318.5 805.6,316.6 806.1,314.6 806.6,312.7 807.2,310.7 807.7,308.8 808.2,306.9 808.8,304.9 809.3,303.0 809.9,301.1 810.4,299.1 811.0,297.2 811.6,295.3 812.2,293.4 812.8,291.5 813.4,289.6 814.0,287.6 814.5,285.7 815.1,283.8 815.7,281.9 816.3,280.0 816.8,278.0 817.3,276.1 817.9,274.2 818.4,272.2 818.9,270.3 819.5,268.4 820.0,266.4 820.5,264.5 821.0,262.5 821.6,260.6 822.1,258.7 822.6,256.7 823.2,254.8 823.7,252.9 824.3,251.0 824.9,249.0 825.4,247.1 826.0,245.2 826.6,243.3 827.2,241.3 827.8,239.4 828.4,237.5 829.0,235.6 829.6,233.7 830.2,231.8 830.9,229.9 831.5,228.0 832.2,226.1 832.9,224.2 833.6,222.4 834.4,220.5 835.1,218.7 835.9,216.8 836.7,214.9 837.5,213.1 838.3,211.3 839.1,209.4 839.9,207.6 840.8,205.8 841.6,204.0 842.5,202.2 843.3,200.4 844.2,198.5 845.1,196.7 846.0,194.9 846.8,193.1 847.7,191.3 848.6,189.5 849.5,187.7 850.4,185.9 851.4,184.1 852.4,182.4 853.4,180.7 854.5,179.1 855.7,177.4 856.8,175.8 858.1,174.2 859.3,172.6 860.6,171.1 862.0,169.6 863.4,168.1 864.8,166.7 866.2,165.4 867.7,164.1 869.3,162.8 870.9,161.5 872.5,160.3 874.2,159.2 875.8,158.1 877.6,157.0 879.3,156.1 881.0,155.1 882.8,154.2 884.7,153.4 886.5,152.5 888.3,151.7 890.2,151.0 892.1,150.2 893.9,149.5 895.8,148.8 897.7,148.0 899.5,147.3 901.4,146.6 903.3,145.8 905.2,145.1 907.0,144.4 908.9,143.6 910.8,142.9 912.6,142.2 914.5,141.5 916.4,140.8 918.3,140.2 920.2,139.6 922.1,139.0 924.0,138.4 925.9,137.9 927.9,137.3 929.8,136.8 931.8,136.3 933.7,135.8 935.6,135.3 937.6,134.8 939.6,134.3 941.5,133.9 943.5,133.5 945.4,133.0 947.4,132.6 949.4,132.2 951.3,131.8 953.3,131.5 955.3,131.1 957.3,130.8 959.2,130.4 961.2,130.1 963.2,129.8 965.2,129.5 967.1,129.2 969.1,128.9 971.1,128.6 973.1,128.3 975.1,128.0 977.1,127.8 979.1,127.5 981.1,127.2 983.1,127.0 985.0,126.7 987.0,126.5 989.0,126.3 991.0,126.0 993.0,125.8 995.0,125.6 997.0,125.4 999.0,125.2 1001.0,125.0 1003.0,124.8"/>
<polyline class="c" stroke="#008080" points="585.0,310.5 586.9,311.1 588.9,311.7 590.8,312.2 592.7,312.8 594.7,313.4 596.6,313.9 598.5,314.5 600.5,315.0 602.4,315.6 604.4,316.1 606.3,316.7 608.2,317.2 610.2,317.8 612.1,318.3 614.1,318.9 616.0,319.4 617.9,320.0 619.9,320.5 621.8,321.0 623.8,321.6 625.7,322.1 627.7,322.7 629.6,323.2 631.5,323.8 633.5,324.4 635.4,324.9 637.3,325.5 639.3,326.1 641.2,326.7 643.1,327.3 645.0,327.9 647.0,328.5 648.9,329.1 650.8,329.7 652.7,330.3 654.7,330.9 656.6,331.5 658.5,332.1 660.4,332.6 662.4,333.2 664.3,333.7 666.3,334.3 668.2,334.8 670.2,335.3 672.1,335.9 674.0,336.4 676.0,337.0 677.9,337.6 679.8,338.2 681.7,338.8 683.7,339.5 685.6,340.1 687.5,340.7 689.4,341.3 691.3,341.9 693.3,342.4 695.2,343.0 697.2,343.5 699.1,344.0 701.1,344.6 703.0,345.1 705.0,345.6 706.9,346.1 708.9,346.5 710.8,347.0 712.8,347.5 714.8,348.0 716.7,348.4 718.7,348.9 720.6,349.3 722.6,349.8 724.6,350.2 726.5,350.7 728.5,351.1 730.5,351.6 732.4,352.0 734.4,352.4 736.4,352.9 738.4,353.3 740.3,353.7 742.3,354.1 744.3,354.5 746.3,354.9 748.2,355.3 750.2,355.7 752.2,356.1 754.2,356.5 756.2,356.8 758.2,357.2 760.2,357.6 762.2,358.0 764.1,358.4 766.1,358.8 768.0,359.3 770.0,359.8 772.0,360.3 773.9,360.9 775.9,361.5 777.9,362.3 779.7,363.0 781.5,364.0 783.0,365.0 784.5,366.3 785.7,367.8 786.8,369.5 787.8,371.3 788.6,373.1 789.2,375.0 789.7,376.9 790.2,378.9 790.5,380.9 790.8,382.9 791.0,385.0 793.8,440.0 797.0,380.0 797.0,378.0 797.1,375.9 797.2,373.9 797.3,371.9 797.4,369.8 797.6,367.8 797.8,365.8 798.0,363.8 798.2,361.8 798.5,359.8 798.7,357.8 799.0,355.9 799.3,353.9 799.6,351.9 800.0,349.9 800.3,348.0 800.6,346.0 801.0,344.0 801.4,342.1 801.9,340.2 802.4,338.2 803.0,336.3 803.6,334.4 804.2,332.5 804.8,330.5 805.4,328.6 806.0,326.7 806.6,324.8 807.1,322.9 807.7,320.9 808.3,319.0 808.9,317.1 809.5,315.2 810.0,313.2 810.6,311.3 811.2,309.4 811.8,307.5 812.3,305.5 812.9,303.6 813.5,301.7 814.1,299.8 814.6,297.8 815.2,295.9 815.8,294.0 816.4,292.1 816.9,290.1 817.5,288.2 818.1,286.3 818.7,284.4 819.3,282.4 819.8,280.5 820.4,278.6 821.0,276.7 821.7,274.8 822.3,272.9 822.9,270.9 823.5,269.0 824.1,267.1 824.7,265.2 825.3,263.3 826.0,261.4 826.6,259.5 827.1,257.5 827.7,255.6 828.3,253.7 828.8,251.8 829.4,249.8 829.9,247.9 830.4,245.9 830.9,244.0 831.4,242.1 831.9,240.1 832.4,238.2 832.9,236.2 833.4,234.3 833.9,232.3 834.4,230.4 834.9,228.4 835.4,226.5 835.9,224.5 836.5,222.6 837.0,220.7 837.5,218.7 838.1,216.8 838.6,214.8 839.2,212.9 839.8,211.0 840.3,209.0 840.9,207.1 841.6,205.2 842.2,203.3 842.9,201.5 843.6,199.6 844.3,197.7 845.1,195.9 845.9,194.0 846.7,192.2 847.6,190.3 848.5,188.5 849.4,186.7 850.3,184.9 851.3,183.2 852.3,181.5 853.4,179.8 854.4,178.1 855.6,176.4 856.7,174.8 857.9,173.2 859.2,171.6 860.5,170.1 861.9,168.5 863.2,167.1 864.6,165.7 866.1,164.3 867.5,162.9 869.1,161.6 870.6,160.3 872.2,159.1 873.8,157.9 875.5,156.7 877.1,155.6 878.8,154.5 880.5,153.5 882.3,152.5 884.0,151.5 885.8,150.6 887.6,149.7 889.4,148.8 891.2,147.9 893.1,147.0 894.9,146.2 896.7,145.4 898.6,144.6 900.4,143.8 902.3,143.0 904.1,142.2 906.0,141.4 907.8,140.7 909.7,139.9 911.6,139.2 913.5,138.5 915.4,137.8 917.3,137.2 919.2,136.6 921.1,136.0 923.0,135.4 924.9,134.9 926.9,134.3 928.8,133.8 930.7,133.3 932.7,132.8 934.6,132.3 936.6,131.9 938.6,131.4 940.5,131.0 942.5,130.6 944.5,130.1 946.4,129.7 948.4,129.3 950.4,128.9 952.4,128.6 954.3,128.2 956.3,127.8 958.3,127.4 960.3,127.1 962.2,126.7 964.2,126.4 966.2,126.0 968.2,125.7 970.1,125.3 972.1,125.0 974.1,124.7 976.1,124.4 978.1,124.0 980.1,123.7 982.1,123.4 984.1,123.2 986.0,122.9 988.0,122.6 990.0,122.3 992.0,122.1 994.0,121.8 996.0,121.6 998.0,121.4 1000.0,121.2 1002.0,121.0"/>
<polyline class="c" stroke="#0000ff" points="585.0,279.5 587.0,279.7 589.0,279.9 591.0,280.1 593.0,280.4 595.0,280.6 597.0,280.8 599.0,281.1 601.0,281.3 603.0,281.6 605.0,281.9 607.0,282.2 609.0,282.4 611.0,282.7 613.0,283.0 615.0,283.3 617.0,283.6 619.0,283.8 621.0,284.1 623.0,284.4 625.0,284.7 627.0,285.0 629.0,285.3 631.0,285.6 633.0,285.8 635.0,286.1 637.0,286.4 639.0,286.6 641.0,286.9 643.0,287.2 645.0,287.5 647.0,287.7 649.0,288.0 651.0,288.3 653.0,288.5 655.0,288.8 657.0,289.0 659.0,289.3 661.0,289.6 663.0,289.8 665.0,290.1 667.0,290.4 669.0,290.6 671.0,290.9 673.0,291.2 675.0,291.4 677.0,291.7 679.0,292.0 681.0,292.2 683.0,292.5 685.0,292.8 687.0,293.1 688.9,293.3 690.9,293.6 692.9,293.9 694.9,294.2 696.9,294.4 698.9,294.7 700.9,295.0 702.9,295.2 704.9,295.5 706.9,295.8 708.9,296.1 710.9,296.3 712.9,296.6 714.9,296.9 716.9,297.2 718.9,297.5 720.9,297.7 722.9,298.0 724.9,298.3 726.9,298.6 728.9,298.9 730.9,299.2 732.9,299.5 734.9,299.8 736.9,300.1 738.9,300.4 740.9,300.7 742.9,301.0 744.9,301.3 746.9,301.6 749.0,301.9 751.0,302.2 753.0,302.5 755.0,302.8 757.0,303.2 759.0,303.5 761.0,303.9 762.9,304.3 764.9,304.7 766.8,305.2 768.7,305.7 770.7,306.2 772.6,306.8 774.5,307.5 776.5,308.3 778.4,309.2 780.1,310.2 781.7,311.3 783.2,312.5 784.4,313.9 785.6,315.5 786.7,317.2 787.6,319.0 788.4,321.0 789.1,322.9 789.6,324.9 790.0,326.8 790.3,328.7 790.6,330.7 790.9,332.6 791.1,334.6 791.3,336.6 791.5,338.6 791.6,340.6 791.8,342.7 791.9,344.7 791.9,346.8 792.0,348.9 793.8,460.0 796.2,355.0 796.3,353.0 796.4,351.0 796.5,349.0 796.5,347.0 796.6,344.9 796.7,342.9 796.8,340.9 796.9,338.9 797.1,336.9 797.2,334.9 797.3,332.9 797.4,330.9 797.6,328.9 797.7,326.9 797.9,324.9 798.1,322.9 798.2,320.9 798.4,318.9 798.6,316.9 798.8,314.9 799.0,312.9 799.3,310.9 799.5,308.9 799.8,306.9 800.0,304.9 800.3,302.9 800.7,300.9 801.0,299.0 801.4,297.0 801.8,295.0 802.2,293.0 802.6,291.1 803.0,289.1 803.5,287.1 803.9,285.2 804.3,283.2 804.7,281.2 805.1,279.3 805.5,277.3 805.9,275.3 806.3,273.3 806.7,271.4 807.1,269.4 807.4,267.4 807.8,265.4 808.2,263.5 808.6,261.5 809.0,259.5 809.5,257.6 809.9,255.6 810.3,253.6 810.7,251.7 811.2,249.7 811.6,247.7 812.1,245.8 812.5,243.8 813.0,241.9 813.5,239.9 814.0,238.0 814.5,236.0 815.0,234.1 815.6,232.2 816.2,230.3 816.9,228.4 817.6,226.5 818.4,224.6 819.1,222.8 819.9,220.9 820.6,219.0 821.2,217.1 821.8,215.2 822.5,213.3 823.1,211.3 823.7,209.4 824.2,207.5 824.9,205.6 825.5,203.7 826.1,201.8 826.8,199.9 827.5,198.0 828.2,196.1 829.0,194.3 829.8,192.4 830.6,190.6 831.4,188.7 832.3,186.9 833.2,185.1 834.2,183.3 835.1,181.5 836.1,179.8 837.2,178.1 838.2,176.4 839.4,174.8 840.6,173.2 841.8,171.6 843.1,170.1 844.5,168.6 845.9,167.1 847.3,165.7 848.8,164.3 850.2,162.9 851.8,161.6 853.3,160.3 854.9,159.1 856.5,157.9 858.1,156.7 859.8,155.6 861.5,154.5 863.2,153.4 865.0,152.4 866.7,151.5 868.5,150.5 870.3,149.6 872.1,148.7 873.9,147.9 875.7,147.0 877.6,146.2 879.4,145.3 881.2,144.4 883.0,143.6 884.8,142.7 886.7,141.8 888.5,141.0 890.3,140.2 892.2,139.3 894.0,138.6 895.9,137.8 897.7,137.1 899.6,136.3 901.5,135.6 903.4,134.9 905.3,134.3 907.2,133.6 909.1,133.0 911.0,132.3 912.9,131.7 914.8,131.1 916.8,130.6 918.7,130.1 920.7,129.5 922.6,129.1 924.5,128.6 926.5,128.1 928.5,127.7 930.4,127.3 932.4,126.9 934.4,126.5 936.3,126.1 938.3,125.7 940.3,125.3 942.3,125.0 944.3,124.6 946.2,124.3 948.2,124.0 950.2,123.6 952.2,123.3 954.2,123.0 956.2,122.6 958.2,122.3 960.1,122.0 962.1,121.7 964.1,121.4 966.1,121.1 968.1,120.8 970.1,120.5 972.1,120.2 974.1,119.9 976.0,119.6 978.0,119.3 980.0,119.1 982.0,118.8 984.0,118.5 986.0,118.3 988.0,118.0 990.0,117.8 992.0,117.5 994.0,117.3 996.0,117.1 998.0,116.9 1000.0,116.7 1002.0,116.5"/>
</g>
<text class="tl" text-anchor="middle" x="590.0" y="554.2">-1.0</text>
<text class="tl" text-anchor="middle" x="692.1" y="554.2">-0.5</text>
<text class="tl" text-anchor="middle" x="794.1" y="554.2">0.0</text>
<text class="tl" text-anchor="middle" x="896.2" y="554.2">0.5</text>
<text class="tl" text-anchor="middle" x="998.2" y="554.2">1.0</text>
<text class="tl" style="font-size:35px" text-anchor="middle" x="794.4" y="616.2">V (V)</text>
<text x="674.6" y="30.3" style="font-size:37.5px" fill="#000">Metal/n-Si<tspan style="font-size:25.5px" dx="0.5" dy="8.7">0.55</tspan><tspan dy="-8.7" dx="0.6">Ge</tspan><tspan style="font-size:25.5px" dx="1.4" dy="8.7">0.45</tspan></text>
</g>
<g id="panel3">
<line class="g" x1="1170.1" y1="52.1" x2="1170.1" y2="517.3"/>
<line class="g" x1="1271.9" y1="52.1" x2="1271.9" y2="517.3"/>
<line class="g" x1="1373.8" y1="52.1" x2="1373.8" y2="517.3"/>
<line class="g" x1="1068.3" y1="474.8" x2="1475.6" y2="474.8"/>
<line class="g" x1="1068.3" y1="432.5" x2="1475.6" y2="432.5"/>
<line class="g" x1="1068.3" y1="390.1" x2="1475.6" y2="390.1"/>
<line class="g" x1="1068.3" y1="347.7" x2="1475.6" y2="347.7"/>
<line class="g" x1="1068.3" y1="305.4" x2="1475.6" y2="305.4"/>
<line class="g" x1="1068.3" y1="263.0" x2="1475.6" y2="263.0"/>
<line class="g" x1="1068.3" y1="220.6" x2="1475.6" y2="220.6"/>
<line class="g" x1="1068.3" y1="178.2" x2="1475.6" y2="178.2"/>
<line class="g" x1="1068.3" y1="135.9" x2="1475.6" y2="135.9"/>
<line class="g" x1="1068.3" y1="93.5" x2="1475.6" y2="93.5"/>
<line class="t" x1="1068.3" y1="474.8" x2="1078.8" y2="474.8"/>
<line class="t" x1="1068.3" y1="432.5" x2="1078.8" y2="432.5"/>
<line class="t" x1="1068.3" y1="390.1" x2="1078.8" y2="390.1"/>
<line class="t" x1="1068.3" y1="347.7" x2="1078.8" y2="347.7"/>
<line class="t" x1="1068.3" y1="305.4" x2="1078.8" y2="305.4"/>
<line class="t" x1="1068.3" y1="263.0" x2="1078.8" y2="263.0"/>
<line class="t" x1="1068.3" y1="220.6" x2="1078.8" y2="220.6"/>
<line class="t" x1="1068.3" y1="178.2" x2="1078.8" y2="178.2"/>
<line class="t" x1="1068.3" y1="135.9" x2="1078.8" y2="135.9"/>
<line class="t" x1="1068.3" y1="93.5" x2="1078.8" y2="93.5"/>
<line class="t" x1="1170.1" y1="517.3" x2="1170.1" y2="507.8"/>
<line class="t" x1="1271.9" y1="517.3" x2="1271.9" y2="507.8"/>
<line class="t" x1="1373.8" y1="517.3" x2="1373.8" y2="507.8"/>
<line class="t" x1="1119.2" y1="517.3" x2="1119.2" y2="511.8"/>
<line class="t" x1="1221.0" y1="517.3" x2="1221.0" y2="511.8"/>
<line class="t" x1="1322.9" y1="517.3" x2="1322.9" y2="511.8"/>
<line class="t" x1="1424.7" y1="517.3" x2="1424.7" y2="511.8"/>
<rect class="fr" x="1068.3" y="52.1" width="407.3" height="465.2"/>
<clipPath id="clip2"><rect x="1066.9" y="52.1" width="409.0" height="464.7"/></clipPath>
<g clip-path="url(#clip2)">
<polyline class="c" stroke="#ff0000" points="1062.0,236.0 1064.0,236.1 1066.0,236.2 1068.0,236.2 1070.0,236.3 1072.0,236.4 1074.0,236.5 1076.1,236.6 1078.1,236.7 1080.1,236.8 1082.1,236.9 1084.1,237.0 1086.1,237.1 1088.1,237.2 1090.1,237.4 1092.1,237.5 1094.1,237.6 1096.1,237.7 1098.1,237.8 1100.1,237.9 1102.1,238.1 1104.2,238.2 1106.2,238.3 1108.2,238.4 1110.2,238.6 1112.2,238.7 1114.2,238.8 1116.2,239.0 1118.2,239.1 1120.2,239.2 1122.2,239.4 1124.2,239.5 1126.2,239.7 1128.2,239.8 1130.2,239.9 1132.2,240.1 1134.2,240.2 1136.2,240.4 1138.2,240.6 1140.2,240.7 1142.2,240.9 1144.2,241.0 1146.3,241.2 1148.3,241.3 1150.3,241.5 1152.3,241.6 1154.3,241.8 1156.3,242.0 1158.3,242.1 1160.3,242.3 1162.3,242.4 1164.3,242.6 1166.3,242.7 1168.3,242.9 1170.3,243.0 1172.3,243.2 1174.3,243.3 1176.3,243.5 1178.3,243.6 1180.3,243.7 1182.3,243.9 1184.3,244.0 1186.3,244.2 1188.4,244.3 1190.4,244.4 1192.4,244.6 1194.4,244.7 1196.4,244.9 1198.4,245.0 1200.4,245.2 1202.4,245.3 1204.4,245.5 1206.4,245.6 1208.4,245.8 1210.4,246.0 1212.4,246.2 1214.4,246.4 1216.4,246.6 1218.4,246.8 1220.4,247.0 1222.4,247.2 1224.4,247.5 1226.5,247.7 1228.5,247.9 1230.5,248.2 1232.5,248.5 1234.5,248.8 1236.5,249.1 1238.4,249.4 1240.4,249.7 1242.4,250.1 1244.3,250.5 1246.3,250.9 1248.2,251.4 1250.2,251.9 1252.1,252.5 1254.1,253.2 1256.0,253.9 1257.8,254.8 1259.4,255.8 1261.0,257.0 1262.4,258.3 1263.7,259.9 1264.8,261.6 1265.7,263.3 1266.5,265.2 1267.1,267.1 1267.7,269.0 1268.1,271.0 1268.5,272.9 1268.8,274.9 1269.0,276.9 1269.2,278.9 1269.4,280.9 1269.5,282.9 1269.6,284.9 1269.7,286.9 1269.8,289.0 1270.9,320.0 1273.0,325.0 1273.2,323.0 1273.4,321.0 1273.6,319.0 1273.8,317.0 1274.0,315.0 1274.3,313.0 1274.5,311.0 1274.8,309.0 1275.0,307.0 1275.3,305.1 1275.6,303.1 1275.9,301.1 1276.1,299.1 1276.4,297.1 1276.8,295.1 1277.1,293.2 1277.4,291.2 1277.8,289.2 1278.1,287.2 1278.5,285.3 1278.9,283.3 1279.3,281.3 1279.6,279.3 1280.0,277.4 1280.4,275.4 1280.8,273.4 1281.2,271.5 1281.6,269.5 1282.1,267.6 1282.5,265.6 1282.9,263.6 1283.3,261.7 1283.8,259.7 1284.2,257.8 1284.7,255.8 1285.1,253.8 1285.6,251.9 1286.0,249.9 1286.5,248.0 1286.9,246.0 1287.4,244.1 1287.8,242.1 1288.3,240.2 1288.7,238.2 1289.2,236.3 1289.7,234.3 1290.1,232.3 1290.6,230.4 1291.1,228.5 1291.6,226.5 1292.1,224.6 1292.6,222.6 1293.2,220.7 1293.7,218.8 1294.3,216.8 1294.8,214.9 1295.4,213.0 1295.9,211.1 1296.5,209.1 1297.1,207.2 1297.8,205.3 1298.4,203.4 1299.0,201.5 1299.7,199.6 1300.4,197.7 1301.1,195.9 1301.8,194.0 1302.5,192.1 1303.3,190.2 1304.0,188.4 1304.8,186.5 1305.6,184.7 1306.4,182.8 1307.2,181.0 1308.0,179.2 1308.9,177.4 1309.7,175.5 1310.6,173.8 1311.6,172.0 1312.5,170.2 1313.5,168.4 1314.5,166.7 1315.6,165.0 1316.7,163.3 1317.9,161.8 1319.2,160.2 1320.5,158.8 1321.9,157.3 1323.4,155.9 1324.9,154.6 1326.5,153.3 1328.1,152.1 1329.7,150.9 1331.4,149.8 1333.0,148.7 1334.8,147.7 1336.5,146.8 1338.3,145.8 1340.1,145.0 1342.0,144.1 1343.8,143.3 1345.7,142.5 1347.5,141.8 1349.4,141.0 1351.3,140.3 1353.1,139.6 1355.0,138.9 1356.9,138.3 1358.8,137.6 1360.7,137.0 1362.6,136.4 1364.6,135.8 1366.5,135.2 1368.4,134.6 1370.3,134.0 1372.3,133.5 1374.2,133.0 1376.1,132.4 1378.1,131.9 1380.0,131.4 1382.0,130.9 1383.9,130.4 1385.9,129.9 1387.8,129.4 1389.8,129.0 1391.7,128.5 1393.7,128.1 1395.6,127.7 1397.6,127.3 1399.6,126.9 1401.5,126.5 1403.5,126.1 1405.5,125.7 1407.4,125.4 1409.4,125.0 1411.4,124.6 1413.4,124.3 1415.4,123.9 1417.3,123.6 1419.3,123.3 1421.3,123.0 1423.3,122.6 1425.3,122.3 1427.2,122.0 1429.2,121.7 1431.2,121.4 1433.2,121.1 1435.2,120.9 1437.2,120.6 1439.2,120.3 1441.1,120.1 1443.1,119.8 1445.1,119.5 1447.1,119.3 1449.1,119.0 1451.1,118.8 1453.1,118.5 1455.1,118.3 1457.1,118.1 1459.1,117.8 1461.1,117.6 1463.1,117.4 1465.0,117.1 1467.0,116.9 1469.0,116.7 1471.0,116.4 1473.0,116.2 1475.0,116.0 1477.0,115.7 1479.0,115.5"/>
<polyline class="c" stroke="#ff0080" points="1062.0,249.3 1064.0,249.4 1066.0,249.4 1068.0,249.5 1070.0,249.6 1072.1,249.6 1074.1,249.7 1076.1,249.8 1078.1,249.8 1080.1,249.9 1082.1,250.0 1084.1,250.0 1086.1,250.1 1088.2,250.2 1090.2,250.3 1092.2,250.3 1094.2,250.4 1096.2,250.5 1098.2,250.6 1100.2,250.7 1102.2,250.7 1104.2,250.8 1106.2,250.9 1108.3,251.0 1110.3,251.1 1112.3,251.2 1114.3,251.3 1116.3,251.4 1118.3,251.5 1120.3,251.7 1122.3,251.8 1124.3,251.9 1126.3,252.1 1128.3,252.2 1130.4,252.4 1132.4,252.5 1134.4,252.7 1136.4,252.8 1138.4,253.0 1140.4,253.1 1142.4,253.3 1144.4,253.5 1146.4,253.6 1148.4,253.8 1150.4,253.9 1152.4,254.1 1154.4,254.3 1156.4,254.4 1158.4,254.6 1160.4,254.8 1162.5,254.9 1164.5,255.1 1166.5,255.2 1168.5,255.4 1170.5,255.6 1172.5,255.7 1174.5,255.8 1176.5,256.0 1178.5,256.1 1180.5,256.3 1182.5,256.4 1184.5,256.6 1186.5,256.7 1188.6,256.8 1190.6,257.0 1192.6,257.1 1194.6,257.3 1196.6,257.4 1198.6,257.6 1200.6,257.7 1202.6,257.9 1204.6,258.0 1206.6,258.2 1208.6,258.4 1210.6,258.5 1212.6,258.7 1214.6,258.9 1216.6,259.1 1218.7,259.2 1220.7,259.4 1222.7,259.6 1224.7,259.7 1226.7,259.9 1228.7,260.1 1230.7,260.3 1232.7,260.5 1234.7,260.7 1236.8,260.9 1238.7,261.2 1240.7,261.4 1242.7,261.7 1244.7,262.0 1246.7,262.3 1248.7,262.7 1250.7,263.1 1252.7,263.5 1254.7,264.1 1256.6,264.7 1258.4,265.5 1260.1,266.4 1261.6,267.5 1263.0,269.0 1264.2,270.6 1265.1,272.3 1265.9,274.1 1266.6,276.0 1267.1,278.0 1267.5,280.0 1267.9,282.0 1268.2,284.0 1268.5,286.0 1268.8,287.9 1269.0,289.9 1269.2,291.9 1269.4,293.9 1269.6,296.0 1269.7,298.0 1269.8,300.0 1270.9,330.0 1272.5,300.0 1272.6,298.0 1272.7,296.0 1272.8,294.0 1272.9,292.0 1273.1,289.9 1273.2,287.9 1273.4,285.9 1273.6,283.9 1273.8,281.9 1274.0,279.9 1274.2,277.9 1274.4,275.9 1274.6,273.9 1274.9,271.9 1275.2,270.0 1275.5,268.0 1275.8,266.0 1276.1,264.0 1276.5,262.0 1276.9,260.0 1277.2,258.1 1277.6,256.1 1278.0,254.1 1278.3,252.1 1278.7,250.1 1279.1,248.2 1279.5,246.2 1279.8,244.2 1280.2,242.2 1280.6,240.2 1280.9,238.3 1281.3,236.3 1281.7,234.3 1282.1,232.4 1282.5,230.4 1283.0,228.4 1283.4,226.5 1283.9,224.5 1284.4,222.6 1284.9,220.6 1285.4,218.7 1286.0,216.7 1286.6,214.8 1287.1,212.9 1287.7,211.0 1288.3,209.0 1288.9,207.1 1289.4,205.2 1290.0,203.2 1290.5,201.3 1291.1,199.4 1291.7,197.4 1292.2,195.5 1292.8,193.6 1293.4,191.6 1294.0,189.7 1294.5,187.8 1295.1,185.9 1295.8,184.0 1296.4,182.1 1297.0,180.2 1297.7,178.3 1298.4,176.4 1299.1,174.5 1299.8,172.6 1300.5,170.7 1301.3,168.9 1302.0,167.0 1302.8,165.1 1303.6,163.3 1304.4,161.4 1305.2,159.6 1306.0,157.7 1306.8,155.9 1307.6,154.0 1308.4,152.2 1309.3,150.4 1310.2,148.5 1311.1,146.8 1312.1,145.0 1313.1,143.3 1314.2,141.6 1315.3,139.9 1316.5,138.3 1317.7,136.7 1319.0,135.2 1320.3,133.7 1321.7,132.2 1323.1,130.8 1324.6,129.4 1326.1,128.1 1327.7,126.8 1329.3,125.6 1330.9,124.4 1332.5,123.2 1334.2,122.1 1335.9,121.0 1337.7,120.0 1339.4,119.0 1341.2,118.1 1343.0,117.2 1344.8,116.3 1346.6,115.5 1348.5,114.7 1350.3,113.9 1352.2,113.2 1354.1,112.5 1356.0,111.7 1357.8,111.0 1359.7,110.3 1361.6,109.5 1363.4,108.7 1365.3,108.0 1367.2,107.2 1369.0,106.4 1370.9,105.7 1372.8,105.1 1374.7,104.4 1376.6,103.8 1378.5,103.2 1380.5,102.7 1382.4,102.1 1384.4,101.6 1386.3,101.1 1388.3,100.6 1390.2,100.1 1392.2,99.7 1394.2,99.3 1396.1,98.9 1398.1,98.5 1400.1,98.1 1402.1,97.8 1404.0,97.4 1406.0,97.1 1408.0,96.8 1410.0,96.5 1412.0,96.2 1414.0,95.9 1416.0,95.6 1418.0,95.3 1420.0,95.1 1422.0,94.8 1424.0,94.6 1426.0,94.3 1428.0,94.1 1430.0,93.8 1431.9,93.6 1433.9,93.4 1435.9,93.1 1437.9,92.9 1439.9,92.7 1441.9,92.5 1443.9,92.3 1445.9,92.1 1447.9,91.9 1450.0,91.7 1452.0,91.5 1454.0,91.3 1456.0,91.1 1458.0,91.0 1460.0,90.8 1462.0,90.6 1464.0,90.4 1466.0,90.2 1468.0,90.0 1470.0,89.8 1472.0,89.7 1474.0,89.5 1476.0,89.3 1478.0,89.1 1480.0,88.9"/>
<polyline class="c" stroke="#ff8000" points="1062.0,273.5 1064.0,273.6 1066.0,273.7 1068.0,273.7 1070.0,273.8 1072.1,273.9 1074.1,274.0 1076.1,274.1 1078.1,274.2 1080.1,274.2 1082.1,274.3 1084.1,274.4 1086.1,274.5 1088.2,274.6 1090.2,274.7 1092.2,274.8 1094.2,274.9 1096.2,275.0 1098.2,275.0 1100.2,275.1 1102.2,275.2 1104.3,275.3 1106.3,275.4 1108.3,275.5 1110.3,275.6 1112.3,275.7 1114.3,275.8 1116.3,275.9 1118.3,276.0 1120.3,276.1 1122.4,276.2 1124.4,276.3 1126.4,276.4 1128.4,276.5 1130.4,276.6 1132.4,276.7 1134.4,276.8 1136.4,276.9 1138.4,277.0 1140.5,277.1 1142.5,277.2 1144.5,277.3 1146.5,277.4 1148.5,277.5 1150.5,277.7 1152.5,277.8 1154.5,277.9 1156.5,278.0 1158.6,278.1 1160.6,278.2 1162.6,278.3 1164.6,278.4 1166.6,278.6 1168.6,278.7 1170.6,278.8 1172.6,278.9 1174.6,279.1 1176.7,279.2 1178.7,279.3 1180.7,279.4 1182.7,279.6 1184.7,279.7 1186.7,279.8 1188.7,280.0 1190.7,280.1 1192.7,280.2 1194.7,280.4 1196.7,280.5 1198.8,280.7 1200.8,280.8 1202.8,281.0 1204.8,281.1 1206.8,281.3 1208.8,281.4 1210.8,281.6 1212.8,281.7 1214.8,281.9 1216.8,282.0 1218.9,282.2 1220.9,282.3 1222.9,282.5 1224.9,282.6 1226.9,282.8 1228.9,282.9 1231.0,283.1 1233.0,283.3 1235.0,283.4 1237.0,283.6 1239.0,283.9 1241.0,284.1 1243.0,284.3 1245.0,284.6 1246.9,284.9 1249.0,285.2 1251.0,285.6 1253.0,286.1 1255.0,286.6 1256.9,287.3 1258.7,288.1 1260.3,289.1 1261.7,290.3 1263.0,291.8 1264.0,293.5 1264.9,295.3 1265.7,297.1 1266.4,299.0 1267.0,300.9 1267.5,302.8 1267.9,304.8 1268.2,306.9 1268.4,308.9 1270.9,340.0 1273.0,325.0 1273.2,323.0 1273.4,321.0 1273.6,319.0 1273.8,317.0 1274.0,315.0 1274.3,313.0 1274.5,311.0 1274.8,309.0 1275.0,307.0 1275.3,305.0 1275.6,303.0 1275.9,301.0 1276.2,299.1 1276.5,297.1 1276.8,295.1 1277.1,293.1 1277.4,291.1 1277.8,289.1 1278.2,287.2 1278.5,285.2 1278.9,283.2 1279.3,281.2 1279.7,279.2 1280.1,277.3 1280.4,275.3 1280.8,273.3 1281.2,271.4 1281.7,269.4 1282.1,267.4 1282.5,265.5 1282.9,263.5 1283.4,261.5 1283.8,259.6 1284.3,257.6 1284.7,255.7 1285.2,253.7 1285.6,251.7 1286.1,249.8 1286.5,247.8 1287.0,245.9 1287.4,243.9 1287.9,241.9 1288.3,240.0 1288.8,238.0 1289.2,236.1 1289.7,234.1 1290.2,232.1 1290.7,230.2 1291.2,228.2 1291.7,226.3 1292.2,224.4 1292.7,222.4 1293.2,220.5 1293.8,218.5 1294.3,216.6 1294.9,214.7 1295.4,212.7 1296.0,210.8 1296.6,208.9 1297.2,207.0 1297.8,205.1 1298.5,203.2 1299.1,201.3 1299.8,199.4 1300.5,197.5 1301.2,195.6 1301.9,193.7 1302.6,191.8 1303.4,190.0 1304.1,188.1 1304.9,186.2 1305.7,184.4 1306.5,182.5 1307.3,180.7 1308.1,178.8 1309.0,177.0 1309.9,175.2 1310.8,173.5 1311.8,171.7 1312.9,170.0 1314.0,168.3 1315.2,166.7 1316.4,165.1 1317.6,163.5 1319.0,162.0 1320.3,160.6 1321.7,159.1 1323.2,157.7 1324.7,156.3 1326.3,155.0 1327.8,153.8 1329.4,152.6 1331.1,151.5 1332.8,150.4 1334.5,149.4 1336.2,148.4 1338.0,147.5 1339.9,146.6 1341.7,145.7 1343.5,144.9 1345.4,144.1 1347.2,143.4 1349.1,142.6 1351.0,141.9 1352.9,141.2 1354.8,140.5 1356.7,139.9 1358.6,139.2 1360.5,138.6 1362.4,138.0 1364.3,137.3 1366.2,136.8 1368.2,136.2 1370.1,135.6 1372.0,135.1 1374.0,134.5 1375.9,134.0 1377.9,133.5 1379.8,132.9 1381.7,132.4 1383.7,131.9 1385.7,131.5 1387.6,131.0 1389.6,130.5 1391.5,130.1 1393.5,129.7 1395.5,129.2 1397.4,128.8 1399.4,128.4 1401.4,128.0 1403.3,127.6 1405.3,127.3 1407.3,126.9 1409.3,126.5 1411.2,126.2 1413.2,125.8 1415.2,125.5 1417.2,125.1 1419.2,124.8 1421.2,124.5 1423.2,124.2 1425.1,123.9 1427.1,123.5 1429.1,123.2 1431.1,123.0 1433.1,122.7 1435.1,122.4 1437.1,122.1 1439.1,121.8 1441.1,121.6 1443.1,121.3 1445.0,121.0 1447.0,120.8 1449.0,120.5 1451.0,120.3 1453.0,120.0 1455.0,119.8 1457.0,119.6 1459.0,119.3 1461.0,119.1 1463.0,118.9 1465.0,118.6 1467.0,118.4 1469.0,118.2 1471.0,117.9 1473.0,117.7 1475.0,117.5 1477.0,117.2 1479.0,117.0"/>
<polyline class="c" stroke="#000080" points="1062.0,291.0 1064.0,291.1 1066.0,291.2 1068.0,291.2 1070.0,291.3 1072.1,291.4 1074.1,291.5 1076.1,291.5 1078.1,291.6 1080.1,291.7 1082.1,291.8 1084.1,291.8 1086.1,291.9 1088.1,292.0 1090.2,292.1 1092.2,292.1 1094.2,292.2 1096.2,292.3 1098.2,292.4 1100.2,292.5 1102.2,292.5 1104.2,292.6 1106.2,292.7 1108.3,292.8 1110.3,292.9 1112.3,293.0 1114.3,293.1 1116.3,293.2 1118.3,293.3 1120.3,293.4 1122.3,293.5 1124.3,293.6 1126.3,293.7 1128.4,293.8 1130.4,293.9 1132.4,294.0 1134.4,294.1 1136.4,294.3 1138.4,294.4 1140.4,294.5 1142.4,294.6 1144.4,294.7 1146.4,294.9 1148.4,295.0 1150.5,295.1 1152.5,295.2 1154.5,295.3 1156.5,295.5 1158.5,295.6 1160.5,295.7 1162.5,295.8 1164.5,295.9 1166.5,296.1 1168.5,296.2 1170.5,296.3 1172.6,296.4 1174.6,296.5 1176.6,296.6 1178.6,296.7 1180.6,296.8 1182.6,296.9 1184.6,297.0 1186.6,297.2 1188.6,297.3 1190.6,297.4 1192.7,297.5 1194.7,297.6 1196.7,297.7 1198.7,297.8 1200.7,297.9 1202.7,298.1 1204.7,298.2 1206.7,298.3 1208.7,298.4 1210.7,298.6 1212.7,298.7 1214.7,298.9 1216.8,299.0 1218.8,299.2 1220.8,299.4 1222.8,299.5 1224.8,299.7 1226.8,299.9 1228.8,300.1 1230.8,300.3 1232.9,300.5 1234.9,300.7 1236.9,300.9 1238.9,301.2 1240.8,301.4 1242.8,301.7 1244.8,302.0 1246.8,302.3 1248.8,302.7 1250.8,303.1 1252.8,303.6 1254.8,304.1 1256.7,304.7 1258.5,305.5 1260.2,306.4 1261.7,307.6 1263.1,309.0 1264.3,310.6 1265.3,312.2 1266.1,314.0 1266.7,315.8 1267.3,317.7 1267.8,319.7 1268.1,321.8 1268.4,323.9 1270.4,430.0 1270.9,478.0 1271.4,430.0 1273.5,325.0 1273.7,323.0 1273.8,321.0 1274.0,319.0 1274.2,317.0 1274.4,315.0 1274.5,313.0 1274.8,311.0 1275.0,309.0 1275.2,307.0 1275.4,305.0 1275.6,303.0 1275.9,301.0 1276.1,299.0 1276.4,297.0 1276.7,295.0 1277.0,293.0 1277.3,291.0 1277.6,289.0 1277.9,287.1 1278.2,285.1 1278.6,283.1 1278.9,281.1 1279.3,279.1 1279.6,277.2 1280.0,275.2 1280.3,273.2 1280.7,271.2 1281.1,269.2 1281.5,267.3 1281.8,265.3 1282.2,263.3 1282.6,261.4 1283.0,259.4 1283.5,257.4 1283.9,255.4 1284.3,253.5 1284.7,251.5 1285.1,249.5 1285.5,247.6 1285.9,245.6 1286.3,243.6 1286.7,241.7 1287.1,239.7 1287.6,237.7 1288.0,235.8 1288.4,233.8 1288.9,231.8 1289.3,229.9 1289.8,227.9 1290.3,226.0 1290.8,224.0 1291.3,222.1 1291.9,220.2 1292.5,218.2 1293.0,216.3 1293.7,214.4 1294.3,212.5 1294.9,210.6 1295.5,208.6 1296.1,206.7 1296.6,204.8 1297.2,202.8 1297.7,200.9 1298.3,198.9 1298.8,197.0 1299.3,195.0 1299.9,193.1 1300.4,191.2 1301.0,189.2 1301.6,187.3 1302.2,185.4 1302.8,183.5 1303.5,181.6 1304.2,179.8 1305.0,178.0 1305.8,176.1 1306.7,174.3 1307.6,172.6 1308.6,170.8 1309.6,169.0 1310.6,167.3 1311.7,165.5 1312.7,163.8 1313.7,162.1 1314.8,160.3 1315.8,158.6 1316.9,156.9 1317.9,155.2 1319.0,153.4 1320.1,151.8 1321.3,150.2 1322.6,148.7 1323.9,147.2 1325.4,145.8 1326.8,144.4 1328.3,143.0 1329.7,141.6 1331.0,140.0 1332.3,138.5 1333.6,136.9 1334.9,135.5 1336.3,134.1 1337.8,132.8 1339.4,131.6 1341.1,130.4 1342.8,129.3 1344.4,128.2 1346.1,127.0 1347.7,125.8 1349.3,124.6 1351.0,123.4 1352.6,122.3 1354.2,121.1 1355.9,119.9 1357.6,118.8 1359.2,117.7 1360.9,116.7 1362.7,115.6 1364.4,114.6 1366.1,113.6 1367.9,112.6 1369.7,111.7 1371.5,110.8 1373.3,109.9 1375.1,109.1 1376.9,108.3 1378.8,107.5 1380.6,106.8 1382.5,106.0 1384.4,105.3 1386.3,104.7 1388.2,104.0 1390.1,103.3 1392.0,102.7 1394.0,102.1 1395.9,101.5 1397.8,100.9 1399.7,100.3 1401.6,99.7 1403.6,99.1 1405.5,98.5 1407.4,97.9 1409.3,97.4 1411.3,96.8 1413.2,96.3 1415.2,95.8 1417.1,95.3 1419.1,94.7 1421.0,94.2 1423.0,93.7 1424.9,93.2 1426.9,92.7 1428.8,92.3 1430.8,91.8 1432.7,91.3 1434.7,90.9 1436.6,90.4 1438.6,90.0 1440.5,89.5 1442.5,89.1 1444.5,88.6 1446.4,88.2 1448.4,87.8 1450.4,87.4 1452.3,87.0 1454.3,86.6 1456.3,86.2 1458.3,85.8 1460.2,85.4 1462.2,85.0 1464.2,84.6 1466.1,84.2 1468.1,83.8 1470.1,83.5 1472.1,83.1 1474.1,82.7 1476.0,82.4 1478.0,82.0 1480.0,81.7"/>
<polyline class="c" stroke="#800080" points="1062.0,309.6 1064.0,309.7 1066.0,309.8 1068.0,310.0 1070.0,310.1 1072.0,310.2 1074.1,310.4 1076.1,310.5 1078.1,310.6 1080.1,310.7 1082.1,310.9 1084.1,311.0 1086.1,311.1 1088.1,311.2 1090.1,311.4 1092.1,311.5 1094.1,311.6 1096.1,311.8 1098.2,311.9 1100.2,312.0 1102.2,312.2 1104.2,312.3 1106.2,312.5 1108.2,312.6 1110.2,312.8 1112.2,312.9 1114.2,313.1 1116.2,313.3 1118.2,313.4 1120.2,313.6 1122.2,313.8 1124.2,314.0 1126.2,314.2 1128.2,314.4 1130.2,314.6 1132.2,314.8 1134.2,315.0 1136.2,315.2 1138.2,315.4 1140.3,315.6 1142.3,315.8 1144.3,316.0 1146.3,316.2 1148.3,316.5 1150.3,316.7 1152.3,316.9 1154.3,317.1 1156.3,317.3 1158.3,317.5 1160.3,317.8 1162.3,318.0 1164.3,318.2 1166.3,318.4 1168.3,318.6 1170.3,318.8 1172.3,319.0 1174.3,319.2 1176.3,319.4 1178.3,319.6 1180.3,319.8 1182.3,320.0 1184.3,320.2 1186.3,320.4 1188.3,320.6 1190.3,320.8 1192.3,321.0 1194.3,321.2 1196.3,321.4 1198.3,321.6 1200.3,321.8 1202.3,322.1 1204.3,322.3 1206.3,322.5 1208.3,322.7 1210.3,322.9 1212.3,323.2 1214.3,323.4 1216.3,323.6 1218.3,323.9 1220.3,324.1 1222.4,324.3 1224.4,324.5 1226.4,324.7 1228.4,325.0 1230.4,325.2 1232.4,325.5 1234.4,325.7 1236.4,326.0 1238.4,326.3 1240.4,326.6 1242.3,326.9 1244.3,327.3 1246.3,327.7 1248.3,328.1 1250.2,328.6 1252.3,329.1 1254.2,329.7 1256.2,330.4 1257.9,331.3 1259.6,332.2 1261.1,333.4 1262.4,334.8 1263.5,336.4 1264.5,338.2 1265.3,340.1 1265.9,342.0 1266.4,343.9 1266.8,345.9 1267.2,347.9 1267.5,349.9 1267.7,351.9 1268.0,353.9 1268.2,355.9 1268.4,357.9 1268.6,359.9 1268.8,361.9 1269.0,363.9 1269.1,365.9 1269.3,367.9 1269.4,369.9 1269.4,372.0 1269.5,374.0 1270.4,430.0 1270.9,476.5 1271.4,430.0 1273.0,365.0 1273.1,363.0 1273.2,361.0 1273.3,359.0 1273.4,357.0 1273.6,355.0 1273.7,353.0 1273.9,351.0 1274.1,349.0 1274.3,347.0 1274.5,345.0 1274.7,343.0 1274.9,341.0 1275.1,339.0 1275.4,337.0 1275.7,335.1 1276.0,333.1 1276.4,331.1 1276.7,329.1 1277.1,327.1 1277.5,325.2 1277.8,323.2 1278.2,321.2 1278.6,319.3 1278.9,317.3 1279.3,315.3 1279.7,313.4 1280.1,311.4 1280.5,309.4 1280.9,307.5 1281.3,305.5 1281.7,303.5 1282.2,301.6 1282.6,299.6 1283.0,297.7 1283.5,295.7 1283.9,293.8 1284.4,291.8 1284.9,289.9 1285.4,287.9 1285.9,286.0 1286.4,284.0 1286.9,282.1 1287.4,280.1 1287.9,278.2 1288.4,276.3 1288.9,274.3 1289.5,272.4 1290.0,270.5 1290.6,268.5 1291.2,266.6 1291.7,264.7 1292.3,262.8 1292.9,260.9 1293.5,259.0 1294.1,257.0 1294.7,255.1 1295.3,253.2 1295.9,251.3 1296.4,249.4 1297.0,247.4 1297.6,245.5 1298.2,243.6 1298.7,241.7 1299.3,239.7 1299.9,237.8 1300.4,235.9 1301.0,234.0 1301.6,232.1 1302.2,230.1 1302.8,228.2 1303.3,226.3 1304.0,224.4 1304.6,222.5 1305.2,220.6 1305.8,218.7 1306.5,216.8 1307.1,214.9 1307.8,213.0 1308.4,211.1 1309.0,209.2 1309.7,207.3 1310.3,205.4 1310.9,203.4 1311.4,201.5 1312.0,199.6 1312.6,197.7 1313.1,195.7 1313.7,193.8 1314.3,191.9 1314.8,190.0 1315.4,188.0 1316.0,186.1 1316.6,184.2 1317.2,182.3 1317.9,180.4 1318.5,178.5 1319.2,176.7 1319.9,174.8 1320.7,172.9 1321.4,171.1 1322.2,169.2 1323.0,167.4 1323.8,165.5 1324.6,163.7 1325.4,161.8 1326.2,160.0 1327.0,158.1 1327.8,156.3 1328.7,154.5 1329.6,152.7 1330.6,151.0 1331.6,149.2 1332.6,147.5 1333.7,145.8 1334.9,144.1 1336.0,142.4 1337.2,140.8 1338.5,139.3 1339.8,137.9 1341.2,136.5 1342.7,135.2 1344.2,133.9 1345.8,132.7 1347.5,131.5 1349.2,130.4 1350.9,129.3 1352.6,128.2 1354.3,127.2 1356.0,126.1 1357.8,125.2 1359.5,124.2 1361.3,123.3 1363.1,122.4 1364.9,121.5 1366.7,120.7 1368.6,119.9 1370.4,119.1 1372.3,118.4 1374.2,117.6 1376.0,116.9 1377.9,116.2 1379.8,115.6 1381.7,115.0 1383.6,114.3 1385.5,113.7 1387.5,113.2 1389.4,112.6 1391.3,112.0 1393.2,111.5 1395.2,111.0 1397.1,110.5 1399.1,110.0 1401.0,109.5 1403.0,109.0 1404.9,108.5 1406.8,108.0 1408.8,107.6 1410.8,107.1 1412.7,106.6 1414.7,106.2 1416.6,105.8 1418.6,105.3 1420.5,104.9 1422.5,104.5 1424.5,104.1 1426.4,103.7 1428.4,103.3 1430.4,102.9 1432.4,102.6 1434.3,102.2 1436.3,101.9 1438.3,101.6 1440.3,101.3 1442.2,101.0 1444.2,100.7 1446.2,100.4 1448.2,100.1 1450.2,99.8 1452.2,99.5 1454.1,99.2 1456.1,99.0 1458.1,98.7 1460.1,98.4 1462.1,98.2 1464.1,97.9 1466.1,97.6 1468.1,97.4 1470.1,97.1 1472.0,96.9 1474.0,96.6 1476.0,96.3 1478.0,96.1 1480.0,95.8"/>
<polyline class="c" stroke="#008000" points="1062.0,268.8 1064.0,268.9 1066.0,268.9 1068.0,269.0 1070.0,269.0 1072.0,269.1 1074.1,269.1 1076.1,269.2 1078.1,269.2 1080.1,269.2 1082.1,269.3 1084.1,269.3 1086.1,269.3 1088.1,269.4 1090.1,269.4 1092.1,269.4 1094.1,269.4 1096.2,269.5 1098.2,269.5 1100.2,269.5 1102.2,269.6 1104.2,269.6 1106.2,269.7 1108.2,269.7 1110.2,269.7 1112.2,269.8 1114.2,269.8 1116.2,269.9 1118.3,270.0 1120.3,270.0 1122.3,270.1 1124.3,270.2 1126.3,270.2 1128.3,270.3 1130.3,270.4 1132.3,270.5 1134.3,270.6 1136.3,270.6 1138.3,270.7 1140.3,270.8 1142.4,270.9 1144.4,271.0 1146.4,271.1 1148.4,271.2 1150.4,271.3 1152.4,271.4 1154.4,271.5 1156.4,271.6 1158.4,271.7 1160.4,271.8 1162.4,271.9 1164.4,272.0 1166.4,272.1 1168.5,272.1 1170.5,272.2 1172.5,272.3 1174.5,272.4 1176.5,272.5 1178.5,272.5 1180.5,272.6 1182.5,272.7 1184.5,272.8 1186.5,272.9 1188.5,272.9 1190.5,273.0 1192.5,273.1 1194.6,273.2 1196.6,273.2 1198.6,273.3 1200.6,273.4 1202.6,273.5 1204.6,273.6 1206.6,273.7 1208.6,273.8 1210.6,273.9 1212.6,274.0 1214.6,274.1 1216.6,274.2 1218.7,274.3 1220.7,274.4 1222.7,274.5 1224.7,274.6 1226.7,274.7 1228.7,274.8 1230.8,275.0 1232.8,275.1 1234.8,275.2 1236.8,275.4 1238.8,275.6 1240.8,275.7 1242.8,275.9 1244.7,276.1 1246.7,276.4 1248.8,276.7 1250.8,277.0 1252.8,277.4 1254.8,277.9 1256.7,278.6 1258.5,279.3 1260.2,280.2 1261.6,281.4 1262.9,282.8 1264.1,284.5 1265.0,286.3 1265.8,288.1 1266.4,290.0 1266.9,291.9 1267.4,293.8 1267.8,295.8 1268.1,297.8 1268.3,299.9 1268.5,302.0 1270.9,330.0 1273.0,325.0 1273.2,323.0 1273.3,321.0 1273.5,319.0 1273.7,317.0 1273.9,315.0 1274.0,313.0 1274.3,311.0 1274.5,309.0 1274.7,307.0 1274.9,305.0 1275.1,303.0 1275.4,301.0 1275.6,299.0 1275.9,297.0 1276.2,295.0 1276.5,293.0 1276.8,291.0 1277.1,289.1 1277.4,287.1 1277.7,285.1 1278.1,283.1 1278.4,281.1 1278.8,279.1 1279.1,277.2 1279.5,275.2 1279.8,273.2 1280.2,271.2 1280.6,269.2 1281.0,267.3 1281.3,265.3 1281.7,263.3 1282.1,261.4 1282.5,259.4 1282.9,257.4 1283.4,255.5 1283.8,253.5 1284.2,251.5 1284.6,249.5 1285.0,247.6 1285.4,245.6 1285.8,243.6 1286.2,241.7 1286.6,239.7 1287.1,237.7 1287.5,235.8 1287.9,233.8 1288.4,231.8 1288.8,229.9 1289.3,227.9 1289.8,226.0 1290.3,224.0 1290.8,222.1 1291.4,220.2 1292.0,218.2 1292.5,216.3 1293.1,214.4 1293.8,212.5 1294.4,210.6 1295.0,208.7 1295.6,206.7 1296.1,204.8 1296.7,202.9 1297.3,200.9 1297.8,199.0 1298.4,197.1 1299.0,195.1 1299.5,193.2 1300.1,191.3 1300.6,189.4 1301.2,187.4 1301.8,185.5 1302.4,183.6 1303.0,181.7 1303.6,179.8 1304.3,177.8 1304.9,175.9 1305.6,174.0 1306.2,172.1 1306.9,170.2 1307.6,168.3 1308.3,166.4 1309.0,164.5 1309.8,162.7 1310.6,160.9 1311.5,159.1 1312.4,157.4 1313.5,155.6 1314.5,153.9 1315.7,152.3 1316.9,150.6 1318.1,149.0 1319.3,147.4 1320.6,145.8 1321.9,144.3 1323.2,142.8 1324.5,141.3 1325.9,139.8 1327.3,138.4 1328.8,137.0 1330.2,135.6 1331.7,134.3 1333.2,132.9 1334.8,131.6 1336.3,130.4 1337.9,129.1 1339.6,127.9 1341.2,126.8 1342.9,125.7 1344.6,124.6 1346.3,123.6 1348.1,122.6 1349.8,121.7 1351.6,120.8 1353.5,119.9 1355.3,119.1 1357.1,118.3 1359.0,117.5 1360.8,116.8 1362.7,116.0 1364.6,115.4 1366.5,114.7 1368.4,114.1 1370.4,113.4 1372.3,112.8 1374.2,112.3 1376.1,111.7 1378.1,111.2 1380.0,110.6 1381.9,110.1 1383.9,109.6 1385.8,109.1 1387.8,108.7 1389.8,108.2 1391.7,107.8 1393.7,107.3 1395.7,106.9 1397.6,106.5 1399.6,106.1 1401.6,105.7 1403.5,105.3 1405.5,104.9 1407.5,104.5 1409.5,104.2 1411.4,103.8 1413.4,103.4 1415.4,103.1 1417.4,102.8 1419.4,102.4 1421.3,102.1 1423.3,101.7 1425.3,101.4 1427.3,101.1 1429.3,100.8 1431.3,100.4 1433.2,100.1 1435.2,99.8 1437.2,99.5 1439.2,99.2 1441.2,98.9 1443.2,98.6 1445.2,98.3 1447.2,98.0 1449.1,97.7 1451.1,97.4 1453.1,97.1 1455.1,96.8 1457.1,96.5 1459.1,96.2 1461.1,95.9 1463.1,95.6 1465.1,95.3 1467.1,95.1 1469.0,94.8 1471.0,94.5 1473.0,94.2 1475.0,94.0 1477.0,93.7 1479.0,93.4"/>
<polyline class="c" stroke="#00ff00" points="1062.0,303.6 1064.0,303.6 1066.0,303.7 1068.0,303.7 1070.0,303.8 1072.1,303.8 1074.1,303.9 1076.1,303.9 1078.1,304.0 1080.1,304.1 1082.1,304.1 1084.1,304.2 1086.1,304.2 1088.1,304.3 1090.1,304.3 1092.2,304.4 1094.2,304.4 1096.2,304.5 1098.2,304.6 1100.2,304.6 1102.2,304.7 1104.2,304.7 1106.2,304.8 1108.2,304.9 1110.2,304.9 1112.2,305.0 1114.3,305.0 1116.3,305.1 1118.3,305.2 1120.3,305.2 1122.3,305.3 1124.3,305.3 1126.3,305.4 1128.3,305.5 1130.3,305.5 1132.3,305.6 1134.4,305.7 1136.4,305.7 1138.4,305.8 1140.4,305.8 1142.4,305.9 1144.4,306.0 1146.4,306.0 1148.4,306.1 1150.4,306.2 1152.4,306.2 1154.5,306.3 1156.5,306.3 1158.5,306.4 1160.5,306.5 1162.5,306.5 1164.5,306.6 1166.5,306.7 1168.5,306.7 1170.5,306.8 1172.5,306.8 1174.6,306.9 1176.6,306.9 1178.6,307.0 1180.6,307.0 1182.6,307.1 1184.6,307.2 1186.6,307.2 1188.6,307.3 1190.6,307.3 1192.6,307.4 1194.7,307.4 1196.7,307.5 1198.7,307.5 1200.7,307.6 1202.7,307.6 1204.7,307.7 1206.7,307.8 1208.7,307.8 1210.7,307.9 1212.7,308.0 1214.8,308.1 1216.8,308.1 1218.8,308.2 1220.8,308.3 1222.8,308.4 1224.8,308.5 1226.8,308.6 1228.8,308.7 1230.9,308.8 1232.9,308.9 1234.9,309.0 1236.9,309.1 1238.9,309.3 1240.9,309.4 1242.9,309.6 1244.9,309.7 1246.9,309.9 1248.9,310.1 1251.0,310.4 1253.1,310.7 1255.1,311.1 1257.1,311.5 1258.8,312.2 1260.4,313.0 1261.9,314.2 1263.1,315.7 1264.2,317.4 1265.0,319.2 1265.7,321.0 1266.4,322.9 1266.9,324.8 1267.4,326.7 1267.8,328.7 1268.1,330.8 1268.3,332.9 1268.5,335.0 1270.9,360.0 1274.0,335.0 1274.3,333.0 1274.6,331.0 1274.8,329.0 1275.1,327.0 1275.4,325.1 1275.8,323.1 1276.1,321.1 1276.4,319.1 1276.8,317.1 1277.1,315.2 1277.5,313.2 1277.8,311.2 1278.2,309.2 1278.6,307.3 1279.0,305.3 1279.4,303.3 1279.7,301.3 1280.1,299.4 1280.5,297.4 1280.9,295.4 1281.3,293.5 1281.6,291.5 1282.0,289.5 1282.4,287.5 1282.8,285.6 1283.2,283.6 1283.6,281.6 1284.0,279.7 1284.4,277.7 1284.9,275.7 1285.3,273.8 1285.7,271.8 1286.2,269.9 1286.7,267.9 1287.2,266.0 1287.7,264.0 1288.2,262.1 1288.7,260.1 1289.2,258.2 1289.7,256.2 1290.2,254.3 1290.7,252.3 1291.1,250.4 1291.6,248.5 1292.1,246.5 1292.6,244.6 1293.1,242.6 1293.6,240.7 1294.1,238.7 1294.6,236.8 1295.0,234.8 1295.5,232.9 1296.0,230.9 1296.5,229.0 1297.0,227.0 1297.5,225.1 1298.0,223.1 1298.4,221.2 1298.9,219.2 1299.4,217.3 1299.9,215.3 1300.4,213.4 1300.9,211.4 1301.4,209.5 1301.9,207.5 1302.4,205.6 1302.9,203.7 1303.5,201.7 1304.0,199.8 1304.5,197.8 1305.1,195.9 1305.6,194.0 1306.2,192.0 1306.8,190.1 1307.4,188.2 1308.0,186.3 1308.6,184.4 1309.2,182.5 1309.9,180.6 1310.6,178.7 1311.3,176.8 1312.0,174.9 1312.7,173.1 1313.5,171.2 1314.3,169.4 1315.2,167.5 1316.0,165.7 1317.0,164.0 1317.9,162.2 1318.9,160.5 1320.0,158.8 1321.1,157.1 1322.2,155.4 1323.4,153.8 1324.5,152.1 1325.7,150.5 1326.9,148.9 1328.2,147.3 1329.4,145.7 1330.7,144.2 1332.1,142.7 1333.5,141.2 1334.9,139.8 1336.3,138.5 1337.8,137.1 1339.4,135.8 1341.0,134.6 1342.6,133.4 1344.2,132.2 1345.9,131.1 1347.6,130.1 1349.3,129.1 1351.1,128.1 1352.9,127.2 1354.7,126.3 1356.5,125.4 1358.4,124.6 1360.2,123.8 1362.0,123.0 1363.9,122.3 1365.8,121.5 1367.7,120.8 1369.5,120.1 1371.4,119.5 1373.4,118.8 1375.3,118.3 1377.2,117.7 1379.1,117.2 1381.1,116.7 1383.0,116.3 1385.0,115.8 1387.0,115.4 1388.9,114.9 1390.9,114.5 1392.9,114.1 1394.8,113.7 1396.8,113.2 1398.8,112.8 1400.7,112.4 1402.7,112.0 1404.6,111.6 1406.6,111.1 1408.6,110.7 1410.5,110.3 1412.5,109.9 1414.5,109.5 1416.4,109.1 1418.4,108.7 1420.4,108.3 1422.4,107.9 1424.3,107.5 1426.3,107.1 1428.3,106.8 1430.3,106.4 1432.2,106.1 1434.2,105.8 1436.2,105.5 1438.2,105.2 1440.2,104.9 1442.2,104.6 1444.1,104.3 1446.1,104.0 1448.1,103.7 1450.1,103.5 1452.1,103.2 1454.1,103.0 1456.1,102.7 1458.1,102.4 1460.1,102.2 1462.1,101.9 1464.1,101.7 1466.1,101.4 1468.0,101.2 1470.0,100.9 1472.0,100.6 1474.0,100.4 1476.0,100.1 1478.0,99.9 1480.0,99.6"/>
<polyline class="c" stroke="#008080" points="1062.0,262.3 1064.0,262.4 1066.0,262.4 1068.0,262.5 1070.0,262.6 1072.0,262.6 1074.1,262.7 1076.1,262.8 1078.1,262.8 1080.1,262.9 1082.1,263.0 1084.1,263.0 1086.1,263.1 1088.1,263.2 1090.1,263.2 1092.1,263.3 1094.1,263.4 1096.1,263.5 1098.1,263.5 1100.2,263.6 1102.2,263.7 1104.2,263.8 1106.2,263.8 1108.2,263.9 1110.2,264.0 1112.2,264.1 1114.2,264.1 1116.2,264.2 1118.2,264.3 1120.2,264.4 1122.2,264.4 1124.3,264.5 1126.3,264.6 1128.3,264.7 1130.3,264.8 1132.3,264.8 1134.3,264.9 1136.3,265.0 1138.3,265.1 1140.3,265.1 1142.3,265.2 1144.3,265.3 1146.3,265.4 1148.3,265.4 1150.4,265.5 1152.4,265.6 1154.4,265.7 1156.4,265.8 1158.4,265.8 1160.4,265.9 1162.4,266.0 1164.4,266.1 1166.4,266.1 1168.4,266.2 1170.4,266.3 1172.4,266.3 1174.5,266.4 1176.5,266.5 1178.5,266.5 1180.5,266.6 1182.5,266.7 1184.5,266.7 1186.5,266.8 1188.5,266.8 1190.5,266.9 1192.5,267.0 1194.6,267.0 1196.6,267.1 1198.6,267.1 1200.6,267.2 1202.6,267.2 1204.6,267.3 1206.6,267.4 1208.6,267.4 1210.6,267.5 1212.6,267.6 1214.7,267.6 1216.7,267.7 1218.7,267.8 1220.7,267.9 1222.7,268.0 1224.7,268.0 1226.7,268.1 1228.7,268.2 1230.7,268.3 1232.7,268.4 1234.7,268.6 1236.7,268.7 1238.7,268.8 1240.7,268.9 1242.8,269.1 1244.8,269.3 1246.9,269.5 1248.9,269.7 1250.9,270.0 1252.9,270.3 1254.8,270.6 1256.7,271.1 1258.6,271.7 1260.5,272.5 1262.1,273.5 1263.5,274.7 1264.6,276.1 1265.4,277.6 1266.1,279.3 1266.7,281.2 1267.2,283.2 1267.5,285.3 1267.8,287.6 1268.0,290.0 1270.9,442.0 1273.0,325.0 1273.1,323.0 1273.3,321.0 1273.5,319.0 1273.6,317.0 1273.8,315.0 1274.0,313.0 1274.2,311.0 1274.4,309.0 1274.7,307.0 1274.9,305.0 1275.1,303.0 1275.4,301.0 1275.6,299.0 1275.9,297.0 1276.2,295.0 1276.5,293.0 1276.9,291.0 1277.2,289.1 1277.5,287.1 1277.9,285.1 1278.3,283.1 1278.6,281.1 1279.0,279.2 1279.4,277.2 1279.8,275.2 1280.1,273.2 1280.5,271.3 1280.9,269.3 1281.3,267.3 1281.7,265.4 1282.1,263.4 1282.5,261.4 1283.0,259.5 1283.4,257.5 1283.8,255.5 1284.2,253.6 1284.7,251.6 1285.1,249.6 1285.5,247.7 1285.9,245.7 1286.4,243.7 1286.8,241.8 1287.2,239.8 1287.7,237.8 1288.1,235.9 1288.6,233.9 1289.0,232.0 1289.5,230.0 1290.0,228.1 1290.5,226.1 1291.1,224.2 1291.6,222.2 1292.2,220.3 1292.8,218.4 1293.4,216.5 1294.0,214.6 1294.6,212.7 1295.3,210.8 1295.9,208.8 1296.6,206.9 1297.2,205.0 1297.9,203.1 1298.5,201.2 1299.2,199.3 1299.9,197.4 1300.5,195.5 1301.2,193.6 1302.0,191.8 1302.7,189.9 1303.5,188.1 1304.3,186.2 1305.2,184.4 1306.1,182.6 1307.1,180.8 1308.1,179.1 1309.2,177.4 1310.3,175.8 1311.5,174.1 1312.8,172.6 1314.1,171.1 1315.5,169.6 1316.9,168.3 1318.4,166.9 1320.0,165.6 1321.5,164.4 1323.2,163.2 1324.8,162.0 1326.5,160.8 1328.2,159.7 1329.9,158.7 1331.6,157.6 1333.3,156.6 1335.1,155.6 1336.9,154.7 1338.7,153.8 1340.5,152.9 1342.3,152.1 1344.2,151.2 1346.0,150.5 1347.9,149.8 1349.7,149.1 1351.6,148.4 1353.5,147.7 1355.4,147.1 1357.4,146.5 1359.3,145.9 1361.2,145.3 1363.2,144.8 1365.1,144.2 1367.0,143.7 1369.0,143.1 1370.9,142.6 1372.9,142.1 1374.8,141.6 1376.8,141.1 1378.7,140.6 1380.7,140.1 1382.6,139.6 1384.6,139.1 1386.5,138.7 1388.5,138.2 1390.5,137.8 1392.4,137.3 1394.4,136.9 1396.4,136.5 1398.3,136.1 1400.3,135.7 1402.3,135.4 1404.3,135.0 1406.2,134.7 1408.2,134.3 1410.2,134.0 1412.2,133.7 1414.2,133.3 1416.2,133.0 1418.1,132.7 1420.1,132.4 1422.1,132.1 1424.1,131.8 1426.1,131.5 1428.1,131.3 1430.1,131.0 1432.1,130.7 1434.1,130.4 1436.1,130.2 1438.1,129.9 1440.0,129.6 1442.0,129.4 1444.0,129.1 1446.0,128.9 1448.0,128.7 1450.0,128.4 1452.0,128.2 1454.0,128.0 1456.0,127.7 1458.0,127.5 1460.0,127.3 1462.0,127.0 1464.0,126.8 1466.0,126.6 1468.0,126.4 1470.0,126.1 1472.0,125.9 1474.0,125.7 1476.0,125.5 1478.0,125.2 1480.0,125.0"/>
<polyline class="c" stroke="#0000ff" style="stroke-width:5.9" points="1062.0,266.6 1064.0,266.6 1066.0,266.7 1068.0,266.7 1070.0,266.8 1072.0,266.8 1074.1,266.9 1076.1,266.9 1078.1,266.9 1080.1,266.9 1082.1,267.0 1084.1,267.0 1086.1,267.0 1088.1,267.1 1090.1,267.1 1092.2,267.1 1094.2,267.2 1096.2,267.2 1098.2,267.2 1100.2,267.2 1102.2,267.3 1104.2,267.3 1106.2,267.4 1108.2,267.4 1110.2,267.4 1112.2,267.5 1114.3,267.5 1116.3,267.6 1118.3,267.7 1120.3,267.7 1122.3,267.8 1124.3,267.9 1126.3,267.9 1128.3,268.0 1130.3,268.1 1132.3,268.2 1134.3,268.3 1136.4,268.4 1138.4,268.5 1140.4,268.6 1142.4,268.7 1144.4,268.8 1146.4,268.9 1148.4,269.0 1150.4,269.1 1152.4,269.2 1154.4,269.3 1156.4,269.4 1158.4,269.5 1160.4,269.6 1162.5,269.7 1164.5,269.8 1166.5,269.9 1168.5,269.9 1170.5,270.0 1172.5,270.1 1174.5,270.2 1176.5,270.3 1178.5,270.3 1180.5,270.4 1182.5,270.5 1184.6,270.6 1186.6,270.6 1188.6,270.7 1190.6,270.8 1192.6,270.9 1194.6,270.9 1196.6,271.0 1198.6,271.1 1200.6,271.2 1202.6,271.3 1204.6,271.4 1206.6,271.4 1208.7,271.5 1210.7,271.6 1212.7,271.7 1214.7,271.8 1216.7,271.9 1218.7,272.0 1220.7,272.1 1222.7,272.2 1224.8,272.3 1226.8,272.5 1228.8,272.6 1230.8,272.7 1232.8,272.8 1234.8,273.0 1236.8,273.1 1238.8,273.3 1240.8,273.5 1242.8,273.7 1244.8,273.9 1246.8,274.1 1248.8,274.4 1250.8,274.8 1252.9,275.3 1254.9,275.8 1256.8,276.5 1258.5,277.2 1260.2,278.2 1261.6,279.4 1262.9,280.8 1264.1,282.5 1265.0,284.3 1265.8,286.1 1266.4,288.0 1266.9,289.8 1267.4,291.8 1267.8,293.8 1268.1,295.8 1268.3,297.9 1268.5,300.0 1270.9,438.0 1273.0,325.0 1273.2,323.0 1273.3,321.0 1273.5,319.0 1273.7,317.0 1273.8,315.0 1274.0,313.0 1274.3,311.0 1274.5,309.0 1274.7,307.0 1274.9,305.0 1275.1,303.0 1275.4,301.0 1275.6,299.0 1275.9,297.0 1276.2,295.0 1276.5,293.0 1276.8,291.1 1277.1,289.1 1277.4,287.1 1277.7,285.1 1278.1,283.1 1278.4,281.1 1278.8,279.2 1279.1,277.2 1279.5,275.2 1279.8,273.2 1280.2,271.3 1280.6,269.3 1280.9,267.3 1281.3,265.3 1281.7,263.4 1282.1,261.4 1282.5,259.4 1282.9,257.5 1283.3,255.5 1283.8,253.5 1284.2,251.6 1284.6,249.6 1285.0,247.6 1285.4,245.7 1285.8,243.7 1286.2,241.7 1286.6,239.8 1287.0,237.8 1287.5,235.8 1287.9,233.9 1288.3,231.9 1288.8,229.9 1289.3,228.0 1289.8,226.0 1290.3,224.1 1290.8,222.2 1291.4,220.2 1291.9,218.3 1292.5,216.4 1293.1,214.5 1293.7,212.6 1294.3,210.6 1294.9,208.7 1295.5,206.8 1296.1,204.9 1296.7,203.0 1297.3,201.0 1297.8,199.1 1298.4,197.2 1298.9,195.2 1299.5,193.3 1300.1,191.4 1300.6,189.4 1301.2,187.5 1301.8,185.6 1302.4,183.7 1303.0,181.8 1303.6,179.9 1304.2,177.9 1304.9,176.0 1305.5,174.1 1306.1,172.2 1306.8,170.3 1307.4,168.4 1308.1,166.5 1308.8,164.6 1309.6,162.7 1310.3,160.9 1311.2,159.1 1312.0,157.3 1312.9,155.5 1313.9,153.7 1314.9,152.0 1316.0,150.3 1317.1,148.6 1318.2,146.9 1319.3,145.3 1320.5,143.7 1321.8,142.1 1323.1,140.5 1324.4,139.0 1325.8,137.5 1327.2,136.1 1328.6,134.7 1330.1,133.3 1331.5,132.0 1333.1,130.7 1334.6,129.4 1336.2,128.2 1337.8,127.0 1339.5,125.8 1341.1,124.6 1342.8,123.5 1344.5,122.5 1346.2,121.4 1348.0,120.4 1349.7,119.4 1351.5,118.5 1353.3,117.6 1355.1,116.6 1356.9,115.7 1358.7,114.8 1360.5,114.0 1362.3,113.1 1364.1,112.3 1366.0,111.4 1367.8,110.7 1369.7,109.9 1371.5,109.2 1373.4,108.5 1375.3,107.8 1377.2,107.1 1379.1,106.5 1381.0,105.9 1382.9,105.4 1384.9,104.8 1386.8,104.3 1388.8,103.7 1390.7,103.2 1392.6,102.7 1394.6,102.1 1396.5,101.6 1398.5,101.1 1400.4,100.6 1402.4,100.1 1404.3,99.6 1406.2,99.0 1408.2,98.5 1410.1,98.0 1412.1,97.5 1414.0,97.0 1416.0,96.5 1417.9,96.0 1419.9,95.5 1421.8,95.0 1423.8,94.6 1425.7,94.1 1427.7,93.7 1429.6,93.2 1431.6,92.8 1433.6,92.3 1435.5,91.9 1437.5,91.5 1439.5,91.1 1441.4,90.7 1443.4,90.3 1445.4,89.9 1447.3,89.5 1449.3,89.1 1451.3,88.7 1453.3,88.4 1455.2,88.0 1457.2,87.6 1459.2,87.3 1461.2,86.9 1463.1,86.6 1465.1,86.2 1467.1,85.9 1469.1,85.5 1471.1,85.2 1473.1,84.9 1475.0,84.6 1477.0,84.3 1479.0,83.9"/>
</g>
<text class="tl" text-anchor="middle" x="1067.2" y="554.2">-1.0</text>
<text class="tl" text-anchor="middle" x="1169.0" y="554.2">-0.5</text>
<text class="tl" text-anchor="middle" x="1270.8" y="554.2">0.0</text>
<text class="tl" text-anchor="middle" x="1372.7" y="554.2">0.5</text>
<text class="tl" text-anchor="middle" x="1474.5" y="554.2">1.0</text>
<text class="tl" style="font-size:35px" text-anchor="middle" x="1271.8" y="612.8">V (V)</text>
<text x="1263.6" y="30.8" style="font-size:37.5px" fill="#000">Metal/n-Ge</text>
</g>
<text class="tl" x="49.4" y="105.2">10<tspan style="font-size:21.5px" dx="-2.2" dy="-17.4">2</tspan></text>
<text class="tl" x="49.4" y="189.9">10<tspan style="font-size:21.5px" dx="-2.2" dy="-17.4">0</tspan></text>
<text class="tl" x="49.4" y="274.7">10<tspan style="font-size:21.5px" dx="-2.2" dy="-17.4">-2</tspan></text>
<text class="tl" x="49.4" y="359.4">10<tspan style="font-size:21.5px" dx="-2.2" dy="-17.4">-4</tspan></text>
<text class="tl" x="49.4" y="444.2">10<tspan style="font-size:21.5px" dx="-2.2" dy="-17.4">-6</tspan></text>
<text class="tl" x="49.4" y="528.9">10<tspan style="font-size:21.5px" dx="-2.2" dy="-17.4">-8</tspan></text>
<text class="tl" transform="translate(37.2,358.5) rotate(-90)">J (A/cm<tspan style="font-size:21.5px" dy="-19">2</tspan><tspan dy="19">)</tspan></text>
</svg>
</body></html>
